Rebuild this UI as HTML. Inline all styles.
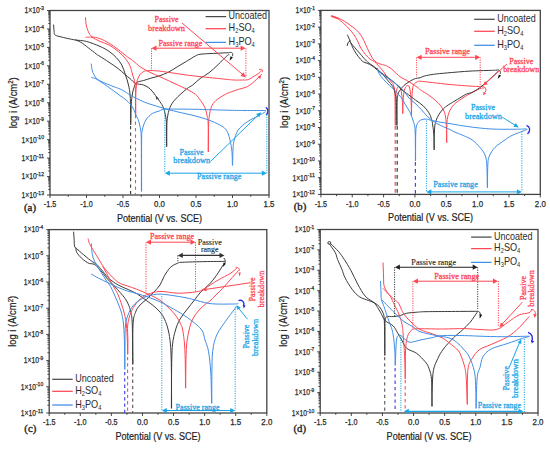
<!DOCTYPE html><html><head><meta charset="utf-8"><style>html,body{margin:0;padding:0;background:#fff;width:550px;height:449px;overflow:hidden} svg{display:block} text{font-family:"Liberation Sans", sans-serif}</style></head><body>
<svg width="550" height="449" viewBox="0 0 550 449">
<rect width="550" height="449" fill="#fff"/>
<rect x="50.00" y="10.50" width="219.00" height="184.50" fill="none" stroke="#444" stroke-width="1.3"/>
<path d="M47.00 195.00H50.00M48.20 189.45H50.00M48.20 186.20H50.00M48.20 183.89H50.00M48.20 182.10H50.00M48.20 180.64H50.00M48.20 179.41H50.00M48.20 178.34H50.00M48.20 177.39H50.00M47.00 176.55H50.00M48.20 171.00H50.00M48.20 167.75H50.00M48.20 165.44H50.00M48.20 163.65H50.00M48.20 162.19H50.00M48.20 160.96H50.00M48.20 159.89H50.00M48.20 158.94H50.00M47.00 158.10H50.00M48.20 152.55H50.00M48.20 149.30H50.00M48.20 146.99H50.00M48.20 145.20H50.00M48.20 143.74H50.00M48.20 142.51H50.00M48.20 141.44H50.00M48.20 140.49H50.00M47.00 139.65H50.00M48.20 134.10H50.00M48.20 130.85H50.00M48.20 128.54H50.00M48.20 126.75H50.00M48.20 125.29H50.00M48.20 124.06H50.00M48.20 122.99H50.00M48.20 122.04H50.00M47.00 121.20H50.00M48.20 115.65H50.00M48.20 112.40H50.00M48.20 110.09H50.00M48.20 108.30H50.00M48.20 106.84H50.00M48.20 105.61H50.00M48.20 104.54H50.00M48.20 103.59H50.00M47.00 102.75H50.00M48.20 97.20H50.00M48.20 93.95H50.00M48.20 91.64H50.00M48.20 89.85H50.00M48.20 88.39H50.00M48.20 87.16H50.00M48.20 86.09H50.00M48.20 85.14H50.00M47.00 84.30H50.00M48.20 78.75H50.00M48.20 75.50H50.00M48.20 73.19H50.00M48.20 71.40H50.00M48.20 69.94H50.00M48.20 68.71H50.00M48.20 67.64H50.00M48.20 66.69H50.00M47.00 65.85H50.00M48.20 60.30H50.00M48.20 57.05H50.00M48.20 54.74H50.00M48.20 52.95H50.00M48.20 51.49H50.00M48.20 50.26H50.00M48.20 49.19H50.00M48.20 48.24H50.00M47.00 47.40H50.00M48.20 41.85H50.00M48.20 38.60H50.00M48.20 36.29H50.00M48.20 34.50H50.00M48.20 33.04H50.00M48.20 31.81H50.00M48.20 30.74H50.00M48.20 29.79H50.00M47.00 28.95H50.00M48.20 23.40H50.00M48.20 20.15H50.00M48.20 17.84H50.00M48.20 16.05H50.00M48.20 14.59H50.00M48.20 13.36H50.00M48.20 12.29H50.00M48.20 11.34H50.00M47.00 10.50H50.00M50.00 195.00V198.00M68.25 195.00V196.80M86.50 195.00V198.00M104.75 195.00V196.80M123.00 195.00V198.00M141.25 195.00V196.80M159.50 195.00V198.00M177.75 195.00V196.80M196.00 195.00V198.00M214.25 195.00V196.80M232.50 195.00V198.00M250.75 195.00V196.80M269.00 195.00V198.00" stroke="#333" stroke-width="0.9" fill="none"/>
<text x="36.70" y="197.85" text-anchor="end" font-size="8.4" fill="#2a2a2a" stroke="#2a2a2a" stroke-width="0.25" textLength="15.2" lengthAdjust="spacingAndGlyphs">1×10</text>
<text x="36.70" y="194.60" font-size="5.8" fill="#2a2a2a" stroke="#2a2a2a" stroke-width="0.25" textLength="7.3" lengthAdjust="spacingAndGlyphs">-13</text>
<text x="36.70" y="179.40" text-anchor="end" font-size="8.4" fill="#2a2a2a" stroke="#2a2a2a" stroke-width="0.25" textLength="15.2" lengthAdjust="spacingAndGlyphs">1×10</text>
<text x="36.70" y="176.15" font-size="5.8" fill="#2a2a2a" stroke="#2a2a2a" stroke-width="0.25" textLength="7.3" lengthAdjust="spacingAndGlyphs">-12</text>
<text x="36.70" y="160.95" text-anchor="end" font-size="8.4" fill="#2a2a2a" stroke="#2a2a2a" stroke-width="0.25" textLength="15.2" lengthAdjust="spacingAndGlyphs">1×10</text>
<text x="36.70" y="157.70" font-size="5.8" fill="#2a2a2a" stroke="#2a2a2a" stroke-width="0.25" textLength="7.3" lengthAdjust="spacingAndGlyphs">-11</text>
<text x="36.70" y="142.50" text-anchor="end" font-size="8.4" fill="#2a2a2a" stroke="#2a2a2a" stroke-width="0.25" textLength="15.2" lengthAdjust="spacingAndGlyphs">1×10</text>
<text x="36.70" y="139.25" font-size="5.8" fill="#2a2a2a" stroke="#2a2a2a" stroke-width="0.25" textLength="7.3" lengthAdjust="spacingAndGlyphs">-10</text>
<text x="39.70" y="124.05" text-anchor="end" font-size="8.4" fill="#2a2a2a" stroke="#2a2a2a" stroke-width="0.25" textLength="15.2" lengthAdjust="spacingAndGlyphs">1×10</text>
<text x="39.70" y="120.80" font-size="5.8" fill="#2a2a2a" stroke="#2a2a2a" stroke-width="0.25" textLength="4.3" lengthAdjust="spacingAndGlyphs">-9</text>
<text x="39.70" y="105.60" text-anchor="end" font-size="8.4" fill="#2a2a2a" stroke="#2a2a2a" stroke-width="0.25" textLength="15.2" lengthAdjust="spacingAndGlyphs">1×10</text>
<text x="39.70" y="102.35" font-size="5.8" fill="#2a2a2a" stroke="#2a2a2a" stroke-width="0.25" textLength="4.3" lengthAdjust="spacingAndGlyphs">-8</text>
<text x="39.70" y="87.15" text-anchor="end" font-size="8.4" fill="#2a2a2a" stroke="#2a2a2a" stroke-width="0.25" textLength="15.2" lengthAdjust="spacingAndGlyphs">1×10</text>
<text x="39.70" y="83.90" font-size="5.8" fill="#2a2a2a" stroke="#2a2a2a" stroke-width="0.25" textLength="4.3" lengthAdjust="spacingAndGlyphs">-7</text>
<text x="39.70" y="68.70" text-anchor="end" font-size="8.4" fill="#2a2a2a" stroke="#2a2a2a" stroke-width="0.25" textLength="15.2" lengthAdjust="spacingAndGlyphs">1×10</text>
<text x="39.70" y="65.45" font-size="5.8" fill="#2a2a2a" stroke="#2a2a2a" stroke-width="0.25" textLength="4.3" lengthAdjust="spacingAndGlyphs">-6</text>
<text x="39.70" y="50.25" text-anchor="end" font-size="8.4" fill="#2a2a2a" stroke="#2a2a2a" stroke-width="0.25" textLength="15.2" lengthAdjust="spacingAndGlyphs">1×10</text>
<text x="39.70" y="47.00" font-size="5.8" fill="#2a2a2a" stroke="#2a2a2a" stroke-width="0.25" textLength="4.3" lengthAdjust="spacingAndGlyphs">-5</text>
<text x="39.70" y="31.80" text-anchor="end" font-size="8.4" fill="#2a2a2a" stroke="#2a2a2a" stroke-width="0.25" textLength="15.2" lengthAdjust="spacingAndGlyphs">1×10</text>
<text x="39.70" y="28.55" font-size="5.8" fill="#2a2a2a" stroke="#2a2a2a" stroke-width="0.25" textLength="4.3" lengthAdjust="spacingAndGlyphs">-4</text>
<text x="39.70" y="13.35" text-anchor="end" font-size="8.4" fill="#2a2a2a" stroke="#2a2a2a" stroke-width="0.25" textLength="15.2" lengthAdjust="spacingAndGlyphs">1×10</text>
<text x="39.70" y="10.10" font-size="5.8" fill="#2a2a2a" stroke="#2a2a2a" stroke-width="0.25" textLength="4.3" lengthAdjust="spacingAndGlyphs">-3</text>
<text x="43.80" y="207.20" font-size="8.6" fill="#2a2a2a" stroke="#2a2a2a" stroke-width="0.25" textLength="12.4" lengthAdjust="spacingAndGlyphs">-1.5</text>
<text x="80.30" y="207.20" font-size="8.6" fill="#2a2a2a" stroke="#2a2a2a" stroke-width="0.25" textLength="12.4" lengthAdjust="spacingAndGlyphs">-1.0</text>
<text x="116.80" y="207.20" font-size="8.6" fill="#2a2a2a" stroke="#2a2a2a" stroke-width="0.25" textLength="12.4" lengthAdjust="spacingAndGlyphs">-0.5</text>
<text x="154.00" y="207.20" font-size="8.6" fill="#2a2a2a" stroke="#2a2a2a" stroke-width="0.25" textLength="11.0" lengthAdjust="spacingAndGlyphs">0.0</text>
<text x="190.50" y="207.20" font-size="8.6" fill="#2a2a2a" stroke="#2a2a2a" stroke-width="0.25" textLength="11.0" lengthAdjust="spacingAndGlyphs">0.5</text>
<text x="227.00" y="207.20" font-size="8.6" fill="#2a2a2a" stroke="#2a2a2a" stroke-width="0.25" textLength="11.0" lengthAdjust="spacingAndGlyphs">1.0</text>
<text x="263.50" y="207.20" font-size="8.6" fill="#2a2a2a" stroke="#2a2a2a" stroke-width="0.25" textLength="11.0" lengthAdjust="spacingAndGlyphs">1.5</text>
<text x="159.50" y="221.50" text-anchor="middle" font-size="10" fill="#222" stroke="#222" stroke-width="0.2" textLength="85" lengthAdjust="spacingAndGlyphs">Potential (V vs. SCE)</text>
<text transform="translate(16.80,102.75) rotate(-90)" text-anchor="middle" font-size="10" fill="#222" stroke="#222" stroke-width="0.2" textLength="51" lengthAdjust="spacingAndGlyphs">log i (A/cm<tspan font-size="6.5" dy="-3.5">2</tspan><tspan dy="3.5">)</tspan></text>
<text x="24.00" y="210.60" style='font-family:"Liberation Serif", serif' font-size="10.8" fill="#222" stroke="#222" stroke-width="0.35">(a)</text>
<rect x="320.90" y="10.40" width="219.40" height="184.00" fill="none" stroke="#444" stroke-width="1.3"/>
<path d="M317.90 194.40H320.90M319.10 189.36H320.90M319.10 186.42H320.90M319.10 184.33H320.90M319.10 182.71H320.90M319.10 181.38H320.90M319.10 180.26H320.90M319.10 179.29H320.90M319.10 178.44H320.90M317.90 177.67H320.90M319.10 172.64H320.90M319.10 169.69H320.90M319.10 167.60H320.90M319.10 165.98H320.90M319.10 164.66H320.90M319.10 163.54H320.90M319.10 162.57H320.90M319.10 161.71H320.90M317.90 160.95H320.90M319.10 155.91H320.90M319.10 152.96H320.90M319.10 150.87H320.90M319.10 149.25H320.90M319.10 147.93H320.90M319.10 146.81H320.90M319.10 145.84H320.90M319.10 144.98H320.90M317.90 144.22H320.90M319.10 139.18H320.90M319.10 136.24H320.90M319.10 134.15H320.90M319.10 132.53H320.90M319.10 131.20H320.90M319.10 130.08H320.90M319.10 129.11H320.90M319.10 128.26H320.90M317.90 127.49H320.90M319.10 122.46H320.90M319.10 119.51H320.90M319.10 117.42H320.90M319.10 115.80H320.90M319.10 114.47H320.90M319.10 113.35H320.90M319.10 112.38H320.90M319.10 111.53H320.90M317.90 110.76H320.90M319.10 105.73H320.90M319.10 102.78H320.90M319.10 100.69H320.90M319.10 99.07H320.90M319.10 97.75H320.90M319.10 96.63H320.90M319.10 95.66H320.90M319.10 94.80H320.90M317.90 94.04H320.90M319.10 89.00H320.90M319.10 86.06H320.90M319.10 83.97H320.90M319.10 82.34H320.90M319.10 81.02H320.90M319.10 79.90H320.90M319.10 78.93H320.90M319.10 78.07H320.90M317.90 77.31H320.90M319.10 72.27H320.90M319.10 69.33H320.90M319.10 67.24H320.90M319.10 65.62H320.90M319.10 64.29H320.90M319.10 63.17H320.90M319.10 62.20H320.90M319.10 61.35H320.90M317.90 60.58H320.90M319.10 55.55H320.90M319.10 52.60H320.90M319.10 50.51H320.90M319.10 48.89H320.90M319.10 47.57H320.90M319.10 46.45H320.90M319.10 45.48H320.90M319.10 44.62H320.90M317.90 43.85H320.90M319.10 38.82H320.90M319.10 35.87H320.90M319.10 33.78H320.90M319.10 32.16H320.90M319.10 30.84H320.90M319.10 29.72H320.90M319.10 28.75H320.90M319.10 27.89H320.90M317.90 27.13H320.90M319.10 22.09H320.90M319.10 19.15H320.90M319.10 17.06H320.90M319.10 15.44H320.90M319.10 14.11H320.90M319.10 12.99H320.90M319.10 12.02H320.90M319.10 11.17H320.90M317.90 10.40H320.90M320.90 194.40V197.40M336.57 194.40V196.20M352.24 194.40V197.40M367.91 194.40V196.20M383.59 194.40V197.40M399.26 194.40V196.20M414.93 194.40V197.40M430.60 194.40V196.20M446.27 194.40V197.40M461.94 194.40V196.20M477.61 194.40V197.40M493.29 194.40V196.20M508.96 194.40V197.40M524.63 194.40V196.20M540.30 194.40V197.40" stroke="#333" stroke-width="0.9" fill="none"/>
<text x="307.60" y="197.25" text-anchor="end" font-size="8.4" fill="#2a2a2a" stroke="#2a2a2a" stroke-width="0.25" textLength="15.2" lengthAdjust="spacingAndGlyphs">1×10</text>
<text x="307.60" y="194.00" font-size="5.8" fill="#2a2a2a" stroke="#2a2a2a" stroke-width="0.25" textLength="7.3" lengthAdjust="spacingAndGlyphs">-12</text>
<text x="307.60" y="180.52" text-anchor="end" font-size="8.4" fill="#2a2a2a" stroke="#2a2a2a" stroke-width="0.25" textLength="15.2" lengthAdjust="spacingAndGlyphs">1×10</text>
<text x="307.60" y="177.27" font-size="5.8" fill="#2a2a2a" stroke="#2a2a2a" stroke-width="0.25" textLength="7.3" lengthAdjust="spacingAndGlyphs">-11</text>
<text x="307.60" y="163.80" text-anchor="end" font-size="8.4" fill="#2a2a2a" stroke="#2a2a2a" stroke-width="0.25" textLength="15.2" lengthAdjust="spacingAndGlyphs">1×10</text>
<text x="307.60" y="160.55" font-size="5.8" fill="#2a2a2a" stroke="#2a2a2a" stroke-width="0.25" textLength="7.3" lengthAdjust="spacingAndGlyphs">-10</text>
<text x="310.60" y="147.07" text-anchor="end" font-size="8.4" fill="#2a2a2a" stroke="#2a2a2a" stroke-width="0.25" textLength="15.2" lengthAdjust="spacingAndGlyphs">1×10</text>
<text x="310.60" y="143.82" font-size="5.8" fill="#2a2a2a" stroke="#2a2a2a" stroke-width="0.25" textLength="4.3" lengthAdjust="spacingAndGlyphs">-9</text>
<text x="310.60" y="130.34" text-anchor="end" font-size="8.4" fill="#2a2a2a" stroke="#2a2a2a" stroke-width="0.25" textLength="15.2" lengthAdjust="spacingAndGlyphs">1×10</text>
<text x="310.60" y="127.09" font-size="5.8" fill="#2a2a2a" stroke="#2a2a2a" stroke-width="0.25" textLength="4.3" lengthAdjust="spacingAndGlyphs">-8</text>
<text x="310.60" y="113.61" text-anchor="end" font-size="8.4" fill="#2a2a2a" stroke="#2a2a2a" stroke-width="0.25" textLength="15.2" lengthAdjust="spacingAndGlyphs">1×10</text>
<text x="310.60" y="110.36" font-size="5.8" fill="#2a2a2a" stroke="#2a2a2a" stroke-width="0.25" textLength="4.3" lengthAdjust="spacingAndGlyphs">-7</text>
<text x="310.60" y="96.89" text-anchor="end" font-size="8.4" fill="#2a2a2a" stroke="#2a2a2a" stroke-width="0.25" textLength="15.2" lengthAdjust="spacingAndGlyphs">1×10</text>
<text x="310.60" y="93.64" font-size="5.8" fill="#2a2a2a" stroke="#2a2a2a" stroke-width="0.25" textLength="4.3" lengthAdjust="spacingAndGlyphs">-6</text>
<text x="310.60" y="80.16" text-anchor="end" font-size="8.4" fill="#2a2a2a" stroke="#2a2a2a" stroke-width="0.25" textLength="15.2" lengthAdjust="spacingAndGlyphs">1×10</text>
<text x="310.60" y="76.91" font-size="5.8" fill="#2a2a2a" stroke="#2a2a2a" stroke-width="0.25" textLength="4.3" lengthAdjust="spacingAndGlyphs">-5</text>
<text x="310.60" y="63.43" text-anchor="end" font-size="8.4" fill="#2a2a2a" stroke="#2a2a2a" stroke-width="0.25" textLength="15.2" lengthAdjust="spacingAndGlyphs">1×10</text>
<text x="310.60" y="60.18" font-size="5.8" fill="#2a2a2a" stroke="#2a2a2a" stroke-width="0.25" textLength="4.3" lengthAdjust="spacingAndGlyphs">-4</text>
<text x="310.60" y="46.70" text-anchor="end" font-size="8.4" fill="#2a2a2a" stroke="#2a2a2a" stroke-width="0.25" textLength="15.2" lengthAdjust="spacingAndGlyphs">1×10</text>
<text x="310.60" y="43.45" font-size="5.8" fill="#2a2a2a" stroke="#2a2a2a" stroke-width="0.25" textLength="4.3" lengthAdjust="spacingAndGlyphs">-3</text>
<text x="310.60" y="29.98" text-anchor="end" font-size="8.4" fill="#2a2a2a" stroke="#2a2a2a" stroke-width="0.25" textLength="15.2" lengthAdjust="spacingAndGlyphs">1×10</text>
<text x="310.60" y="26.73" font-size="5.8" fill="#2a2a2a" stroke="#2a2a2a" stroke-width="0.25" textLength="4.3" lengthAdjust="spacingAndGlyphs">-2</text>
<text x="310.60" y="13.25" text-anchor="end" font-size="8.4" fill="#2a2a2a" stroke="#2a2a2a" stroke-width="0.25" textLength="15.2" lengthAdjust="spacingAndGlyphs">1×10</text>
<text x="310.60" y="10.00" font-size="5.8" fill="#2a2a2a" stroke="#2a2a2a" stroke-width="0.25" textLength="4.3" lengthAdjust="spacingAndGlyphs">-1</text>
<text x="314.70" y="206.60" font-size="8.6" fill="#2a2a2a" stroke="#2a2a2a" stroke-width="0.25" textLength="12.4" lengthAdjust="spacingAndGlyphs">-1.5</text>
<text x="346.04" y="206.60" font-size="8.6" fill="#2a2a2a" stroke="#2a2a2a" stroke-width="0.25" textLength="12.4" lengthAdjust="spacingAndGlyphs">-1.0</text>
<text x="377.39" y="206.60" font-size="8.6" fill="#2a2a2a" stroke="#2a2a2a" stroke-width="0.25" textLength="12.4" lengthAdjust="spacingAndGlyphs">-0.5</text>
<text x="409.43" y="206.60" font-size="8.6" fill="#2a2a2a" stroke="#2a2a2a" stroke-width="0.25" textLength="11.0" lengthAdjust="spacingAndGlyphs">0.0</text>
<text x="440.77" y="206.60" font-size="8.6" fill="#2a2a2a" stroke="#2a2a2a" stroke-width="0.25" textLength="11.0" lengthAdjust="spacingAndGlyphs">0.5</text>
<text x="472.11" y="206.60" font-size="8.6" fill="#2a2a2a" stroke="#2a2a2a" stroke-width="0.25" textLength="11.0" lengthAdjust="spacingAndGlyphs">1.0</text>
<text x="503.46" y="206.60" font-size="8.6" fill="#2a2a2a" stroke="#2a2a2a" stroke-width="0.25" textLength="11.0" lengthAdjust="spacingAndGlyphs">1.5</text>
<text x="534.80" y="206.60" font-size="8.6" fill="#2a2a2a" stroke="#2a2a2a" stroke-width="0.25" textLength="11.0" lengthAdjust="spacingAndGlyphs">2.0</text>
<text x="430.60" y="220.90" text-anchor="middle" font-size="10" fill="#222" stroke="#222" stroke-width="0.2" textLength="85" lengthAdjust="spacingAndGlyphs">Potential (V vs. SCE)</text>
<text transform="translate(287.70,102.40) rotate(-90)" text-anchor="middle" font-size="10" fill="#222" stroke="#222" stroke-width="0.2" textLength="51" lengthAdjust="spacingAndGlyphs">log i (A/cm<tspan font-size="6.5" dy="-3.5">2</tspan><tspan dy="3.5">)</tspan></text>
<text x="293.70" y="210.40" style='font-family:"Liberation Serif", serif' font-size="10.8" fill="#222" stroke="#222" stroke-width="0.35">(b)</text>
<rect x="49.20" y="229.60" width="217.60" height="183.40" fill="none" stroke="#444" stroke-width="1.3"/>
<path d="M46.20 413.00H49.20M47.40 405.11H49.20M47.40 400.50H49.20M47.40 397.23H49.20M47.40 394.69H49.20M47.40 392.61H49.20M47.40 390.86H49.20M47.40 389.34H49.20M47.40 388.00H49.20M46.20 386.80H49.20M47.40 378.91H49.20M47.40 374.30H49.20M47.40 371.03H49.20M47.40 368.49H49.20M47.40 366.41H49.20M47.40 364.66H49.20M47.40 363.14H49.20M47.40 361.80H49.20M46.20 360.60H49.20M47.40 352.71H49.20M47.40 348.10H49.20M47.40 344.83H49.20M47.40 342.29H49.20M47.40 340.21H49.20M47.40 338.46H49.20M47.40 336.94H49.20M47.40 335.60H49.20M46.20 334.40H49.20M47.40 326.51H49.20M47.40 321.90H49.20M47.40 318.63H49.20M47.40 316.09H49.20M47.40 314.01H49.20M47.40 312.26H49.20M47.40 310.74H49.20M47.40 309.40H49.20M46.20 308.20H49.20M47.40 300.31H49.20M47.40 295.70H49.20M47.40 292.43H49.20M47.40 289.89H49.20M47.40 287.81H49.20M47.40 286.06H49.20M47.40 284.54H49.20M47.40 283.20H49.20M46.20 282.00H49.20M47.40 274.11H49.20M47.40 269.50H49.20M47.40 266.23H49.20M47.40 263.69H49.20M47.40 261.61H49.20M47.40 259.86H49.20M47.40 258.34H49.20M47.40 257.00H49.20M46.20 255.80H49.20M47.40 247.91H49.20M47.40 243.30H49.20M47.40 240.03H49.20M47.40 237.49H49.20M47.40 235.41H49.20M47.40 233.66H49.20M47.40 232.14H49.20M47.40 230.80H49.20M46.20 229.60H49.20M49.20 413.00V416.00M64.74 413.00V414.80M80.29 413.00V416.00M95.83 413.00V414.80M111.37 413.00V416.00M126.91 413.00V414.80M142.46 413.00V416.00M158.00 413.00V414.80M173.54 413.00V416.00M189.09 413.00V414.80M204.63 413.00V416.00M220.17 413.00V414.80M235.71 413.00V416.00M251.26 413.00V414.80M266.80 413.00V416.00" stroke="#333" stroke-width="0.9" fill="none"/>
<text x="35.90" y="415.85" text-anchor="end" font-size="8.4" fill="#2a2a2a" stroke="#2a2a2a" stroke-width="0.25" textLength="15.2" lengthAdjust="spacingAndGlyphs">1×10</text>
<text x="35.90" y="412.60" font-size="5.8" fill="#2a2a2a" stroke="#2a2a2a" stroke-width="0.25" textLength="7.3" lengthAdjust="spacingAndGlyphs">-11</text>
<text x="35.90" y="389.65" text-anchor="end" font-size="8.4" fill="#2a2a2a" stroke="#2a2a2a" stroke-width="0.25" textLength="15.2" lengthAdjust="spacingAndGlyphs">1×10</text>
<text x="35.90" y="386.40" font-size="5.8" fill="#2a2a2a" stroke="#2a2a2a" stroke-width="0.25" textLength="7.3" lengthAdjust="spacingAndGlyphs">-10</text>
<text x="38.90" y="363.45" text-anchor="end" font-size="8.4" fill="#2a2a2a" stroke="#2a2a2a" stroke-width="0.25" textLength="15.2" lengthAdjust="spacingAndGlyphs">1×10</text>
<text x="38.90" y="360.20" font-size="5.8" fill="#2a2a2a" stroke="#2a2a2a" stroke-width="0.25" textLength="4.3" lengthAdjust="spacingAndGlyphs">-9</text>
<text x="38.90" y="337.25" text-anchor="end" font-size="8.4" fill="#2a2a2a" stroke="#2a2a2a" stroke-width="0.25" textLength="15.2" lengthAdjust="spacingAndGlyphs">1×10</text>
<text x="38.90" y="334.00" font-size="5.8" fill="#2a2a2a" stroke="#2a2a2a" stroke-width="0.25" textLength="4.3" lengthAdjust="spacingAndGlyphs">-8</text>
<text x="38.90" y="311.05" text-anchor="end" font-size="8.4" fill="#2a2a2a" stroke="#2a2a2a" stroke-width="0.25" textLength="15.2" lengthAdjust="spacingAndGlyphs">1×10</text>
<text x="38.90" y="307.80" font-size="5.8" fill="#2a2a2a" stroke="#2a2a2a" stroke-width="0.25" textLength="4.3" lengthAdjust="spacingAndGlyphs">-7</text>
<text x="38.90" y="284.85" text-anchor="end" font-size="8.4" fill="#2a2a2a" stroke="#2a2a2a" stroke-width="0.25" textLength="15.2" lengthAdjust="spacingAndGlyphs">1×10</text>
<text x="38.90" y="281.60" font-size="5.8" fill="#2a2a2a" stroke="#2a2a2a" stroke-width="0.25" textLength="4.3" lengthAdjust="spacingAndGlyphs">-6</text>
<text x="38.90" y="258.65" text-anchor="end" font-size="8.4" fill="#2a2a2a" stroke="#2a2a2a" stroke-width="0.25" textLength="15.2" lengthAdjust="spacingAndGlyphs">1×10</text>
<text x="38.90" y="255.40" font-size="5.8" fill="#2a2a2a" stroke="#2a2a2a" stroke-width="0.25" textLength="4.3" lengthAdjust="spacingAndGlyphs">-5</text>
<text x="38.90" y="232.45" text-anchor="end" font-size="8.4" fill="#2a2a2a" stroke="#2a2a2a" stroke-width="0.25" textLength="15.2" lengthAdjust="spacingAndGlyphs">1×10</text>
<text x="38.90" y="229.20" font-size="5.8" fill="#2a2a2a" stroke="#2a2a2a" stroke-width="0.25" textLength="4.3" lengthAdjust="spacingAndGlyphs">-4</text>
<text x="43.00" y="425.20" font-size="8.6" fill="#2a2a2a" stroke="#2a2a2a" stroke-width="0.25" textLength="12.4" lengthAdjust="spacingAndGlyphs">-1.5</text>
<text x="74.09" y="425.20" font-size="8.6" fill="#2a2a2a" stroke="#2a2a2a" stroke-width="0.25" textLength="12.4" lengthAdjust="spacingAndGlyphs">-1.0</text>
<text x="105.17" y="425.20" font-size="8.6" fill="#2a2a2a" stroke="#2a2a2a" stroke-width="0.25" textLength="12.4" lengthAdjust="spacingAndGlyphs">-0.5</text>
<text x="136.96" y="425.20" font-size="8.6" fill="#2a2a2a" stroke="#2a2a2a" stroke-width="0.25" textLength="11.0" lengthAdjust="spacingAndGlyphs">0.0</text>
<text x="168.04" y="425.20" font-size="8.6" fill="#2a2a2a" stroke="#2a2a2a" stroke-width="0.25" textLength="11.0" lengthAdjust="spacingAndGlyphs">0.5</text>
<text x="199.13" y="425.20" font-size="8.6" fill="#2a2a2a" stroke="#2a2a2a" stroke-width="0.25" textLength="11.0" lengthAdjust="spacingAndGlyphs">1.0</text>
<text x="230.21" y="425.20" font-size="8.6" fill="#2a2a2a" stroke="#2a2a2a" stroke-width="0.25" textLength="11.0" lengthAdjust="spacingAndGlyphs">1.5</text>
<text x="261.30" y="425.20" font-size="8.6" fill="#2a2a2a" stroke="#2a2a2a" stroke-width="0.25" textLength="11.0" lengthAdjust="spacingAndGlyphs">2.0</text>
<text x="158.00" y="439.50" text-anchor="middle" font-size="10" fill="#222" stroke="#222" stroke-width="0.2" textLength="85" lengthAdjust="spacingAndGlyphs">Potential (V vs. SCE)</text>
<text transform="translate(16.00,321.30) rotate(-90)" text-anchor="middle" font-size="10" fill="#222" stroke="#222" stroke-width="0.2" textLength="51" lengthAdjust="spacingAndGlyphs">log i (A/cm<tspan font-size="6.5" dy="-3.5">2</tspan><tspan dy="3.5">)</tspan></text>
<text x="24.30" y="432.10" style='font-family:"Liberation Serif", serif' font-size="10.8" fill="#222" stroke="#222" stroke-width="0.35">(c)</text>
<rect x="320.20" y="229.50" width="217.80" height="183.50" fill="none" stroke="#444" stroke-width="1.3"/>
<path d="M317.20 413.00H320.20M318.40 406.86H320.20M318.40 403.27H320.20M318.40 400.72H320.20M318.40 398.75H320.20M318.40 397.13H320.20M318.40 395.77H320.20M318.40 394.59H320.20M318.40 393.54H320.20M317.20 392.61H320.20M318.40 386.47H320.20M318.40 382.88H320.20M318.40 380.34H320.20M318.40 378.36H320.20M318.40 376.75H320.20M318.40 375.38H320.20M318.40 374.20H320.20M318.40 373.16H320.20M317.20 372.22H320.20M318.40 366.08H320.20M318.40 362.49H320.20M318.40 359.95H320.20M318.40 357.97H320.20M318.40 356.36H320.20M318.40 354.99H320.20M318.40 353.81H320.20M318.40 352.77H320.20M317.20 351.83H320.20M318.40 345.70H320.20M318.40 342.11H320.20M318.40 339.56H320.20M318.40 337.58H320.20M318.40 335.97H320.20M318.40 334.60H320.20M318.40 333.42H320.20M318.40 332.38H320.20M317.20 331.44H320.20M318.40 325.31H320.20M318.40 321.72H320.20M318.40 319.17H320.20M318.40 317.19H320.20M318.40 315.58H320.20M318.40 314.21H320.20M318.40 313.03H320.20M318.40 311.99H320.20M317.20 311.06H320.20M318.40 304.92H320.20M318.40 301.33H320.20M318.40 298.78H320.20M318.40 296.80H320.20M318.40 295.19H320.20M318.40 293.82H320.20M318.40 292.64H320.20M318.40 291.60H320.20M317.20 290.67H320.20M318.40 284.53H320.20M318.40 280.94H320.20M318.40 278.39H320.20M318.40 276.42H320.20M318.40 274.80H320.20M318.40 273.44H320.20M318.40 272.25H320.20M318.40 271.21H320.20M317.20 270.28H320.20M318.40 264.14H320.20M318.40 260.55H320.20M318.40 258.00H320.20M318.40 256.03H320.20M318.40 254.41H320.20M318.40 253.05H320.20M318.40 251.86H320.20M318.40 250.82H320.20M317.20 249.89H320.20M318.40 243.75H320.20M318.40 240.16H320.20M318.40 237.61H320.20M318.40 235.64H320.20M318.40 234.02H320.20M318.40 232.66H320.20M318.40 231.48H320.20M318.40 230.43H320.20M317.20 229.50H320.20M320.20 413.00V416.00M335.76 413.00V414.80M351.31 413.00V416.00M366.87 413.00V414.80M382.43 413.00V416.00M397.99 413.00V414.80M413.54 413.00V416.00M429.10 413.00V414.80M444.66 413.00V416.00M460.21 413.00V414.80M475.77 413.00V416.00M491.33 413.00V414.80M506.89 413.00V416.00M522.44 413.00V414.80M538.00 413.00V416.00" stroke="#333" stroke-width="0.9" fill="none"/>
<text x="306.90" y="415.85" text-anchor="end" font-size="8.4" fill="#2a2a2a" stroke="#2a2a2a" stroke-width="0.25" textLength="15.2" lengthAdjust="spacingAndGlyphs">1×10</text>
<text x="306.90" y="412.60" font-size="5.8" fill="#2a2a2a" stroke="#2a2a2a" stroke-width="0.25" textLength="7.3" lengthAdjust="spacingAndGlyphs">-10</text>
<text x="309.90" y="395.46" text-anchor="end" font-size="8.4" fill="#2a2a2a" stroke="#2a2a2a" stroke-width="0.25" textLength="15.2" lengthAdjust="spacingAndGlyphs">1×10</text>
<text x="309.90" y="392.21" font-size="5.8" fill="#2a2a2a" stroke="#2a2a2a" stroke-width="0.25" textLength="4.3" lengthAdjust="spacingAndGlyphs">-9</text>
<text x="309.90" y="375.07" text-anchor="end" font-size="8.4" fill="#2a2a2a" stroke="#2a2a2a" stroke-width="0.25" textLength="15.2" lengthAdjust="spacingAndGlyphs">1×10</text>
<text x="309.90" y="371.82" font-size="5.8" fill="#2a2a2a" stroke="#2a2a2a" stroke-width="0.25" textLength="4.3" lengthAdjust="spacingAndGlyphs">-8</text>
<text x="309.90" y="354.68" text-anchor="end" font-size="8.4" fill="#2a2a2a" stroke="#2a2a2a" stroke-width="0.25" textLength="15.2" lengthAdjust="spacingAndGlyphs">1×10</text>
<text x="309.90" y="351.43" font-size="5.8" fill="#2a2a2a" stroke="#2a2a2a" stroke-width="0.25" textLength="4.3" lengthAdjust="spacingAndGlyphs">-7</text>
<text x="309.90" y="334.29" text-anchor="end" font-size="8.4" fill="#2a2a2a" stroke="#2a2a2a" stroke-width="0.25" textLength="15.2" lengthAdjust="spacingAndGlyphs">1×10</text>
<text x="309.90" y="331.04" font-size="5.8" fill="#2a2a2a" stroke="#2a2a2a" stroke-width="0.25" textLength="4.3" lengthAdjust="spacingAndGlyphs">-6</text>
<text x="309.90" y="313.91" text-anchor="end" font-size="8.4" fill="#2a2a2a" stroke="#2a2a2a" stroke-width="0.25" textLength="15.2" lengthAdjust="spacingAndGlyphs">1×10</text>
<text x="309.90" y="310.66" font-size="5.8" fill="#2a2a2a" stroke="#2a2a2a" stroke-width="0.25" textLength="4.3" lengthAdjust="spacingAndGlyphs">-5</text>
<text x="309.90" y="293.52" text-anchor="end" font-size="8.4" fill="#2a2a2a" stroke="#2a2a2a" stroke-width="0.25" textLength="15.2" lengthAdjust="spacingAndGlyphs">1×10</text>
<text x="309.90" y="290.27" font-size="5.8" fill="#2a2a2a" stroke="#2a2a2a" stroke-width="0.25" textLength="4.3" lengthAdjust="spacingAndGlyphs">-4</text>
<text x="309.90" y="273.13" text-anchor="end" font-size="8.4" fill="#2a2a2a" stroke="#2a2a2a" stroke-width="0.25" textLength="15.2" lengthAdjust="spacingAndGlyphs">1×10</text>
<text x="309.90" y="269.88" font-size="5.8" fill="#2a2a2a" stroke="#2a2a2a" stroke-width="0.25" textLength="4.3" lengthAdjust="spacingAndGlyphs">-3</text>
<text x="309.90" y="252.74" text-anchor="end" font-size="8.4" fill="#2a2a2a" stroke="#2a2a2a" stroke-width="0.25" textLength="15.2" lengthAdjust="spacingAndGlyphs">1×10</text>
<text x="309.90" y="249.49" font-size="5.8" fill="#2a2a2a" stroke="#2a2a2a" stroke-width="0.25" textLength="4.3" lengthAdjust="spacingAndGlyphs">-2</text>
<text x="309.90" y="232.35" text-anchor="end" font-size="8.4" fill="#2a2a2a" stroke="#2a2a2a" stroke-width="0.25" textLength="15.2" lengthAdjust="spacingAndGlyphs">1×10</text>
<text x="309.90" y="229.10" font-size="5.8" fill="#2a2a2a" stroke="#2a2a2a" stroke-width="0.25" textLength="4.3" lengthAdjust="spacingAndGlyphs">-1</text>
<text x="314.00" y="425.20" font-size="8.6" fill="#2a2a2a" stroke="#2a2a2a" stroke-width="0.25" textLength="12.4" lengthAdjust="spacingAndGlyphs">-1.5</text>
<text x="345.11" y="425.20" font-size="8.6" fill="#2a2a2a" stroke="#2a2a2a" stroke-width="0.25" textLength="12.4" lengthAdjust="spacingAndGlyphs">-1.0</text>
<text x="376.23" y="425.20" font-size="8.6" fill="#2a2a2a" stroke="#2a2a2a" stroke-width="0.25" textLength="12.4" lengthAdjust="spacingAndGlyphs">-0.5</text>
<text x="408.04" y="425.20" font-size="8.6" fill="#2a2a2a" stroke="#2a2a2a" stroke-width="0.25" textLength="11.0" lengthAdjust="spacingAndGlyphs">0.0</text>
<text x="439.16" y="425.20" font-size="8.6" fill="#2a2a2a" stroke="#2a2a2a" stroke-width="0.25" textLength="11.0" lengthAdjust="spacingAndGlyphs">0.5</text>
<text x="470.27" y="425.20" font-size="8.6" fill="#2a2a2a" stroke="#2a2a2a" stroke-width="0.25" textLength="11.0" lengthAdjust="spacingAndGlyphs">1.0</text>
<text x="501.39" y="425.20" font-size="8.6" fill="#2a2a2a" stroke="#2a2a2a" stroke-width="0.25" textLength="11.0" lengthAdjust="spacingAndGlyphs">1.5</text>
<text x="532.50" y="425.20" font-size="8.6" fill="#2a2a2a" stroke="#2a2a2a" stroke-width="0.25" textLength="11.0" lengthAdjust="spacingAndGlyphs">2.0</text>
<text x="429.10" y="439.50" text-anchor="middle" font-size="10" fill="#222" stroke="#222" stroke-width="0.2" textLength="85" lengthAdjust="spacingAndGlyphs">Potential (V vs. SCE)</text>
<text transform="translate(287.00,321.25) rotate(-90)" text-anchor="middle" font-size="10" fill="#222" stroke="#222" stroke-width="0.2" textLength="51" lengthAdjust="spacingAndGlyphs">log i (A/cm<tspan font-size="6.5" dy="-3.5">2</tspan><tspan dy="3.5">)</tspan></text>
<text x="293.50" y="432.10" style='font-family:"Liberation Serif", serif' font-size="10.8" fill="#222" stroke="#222" stroke-width="0.35">(d)</text>
<path d="M53.60 25.00 C53.68 26.07 53.90 29.77 54.10 31.40 C54.30 33.03 53.97 33.97 54.80 34.80 C55.63 35.63 56.87 35.77 59.10 36.40 C61.33 37.03 65.47 38.00 68.20 38.60 C70.93 39.20 72.47 39.53 75.50 40.00 C78.53 40.47 82.32 40.33 86.40 41.40 C90.48 42.47 96.22 44.73 100.00 46.40 C103.78 48.07 106.37 49.52 109.10 51.40 C111.83 53.28 114.28 55.43 116.40 57.70 C118.52 59.97 120.28 62.12 121.80 65.00 C123.32 67.88 124.38 71.67 125.50 75.00 C126.62 78.33 127.73 81.67 128.50 85.00 C129.27 88.33 129.75 90.83 130.10 95.00 C130.45 99.17 130.52 105.08 130.60 110.00 C130.68 114.92 130.60 122.08 130.60 124.50" fill="none" stroke="#3a3a3a" stroke-width="1.0" stroke-linejoin="round" stroke-linecap="round" />
<path d="M130.80 124.50 C130.87 121.25 130.93 110.08 131.20 105.00 C131.47 99.92 131.93 96.92 132.40 94.00 C132.87 91.08 133.32 89.42 134.00 87.50 C134.68 85.58 134.90 83.67 136.50 82.50 C138.10 81.33 141.20 81.22 143.60 80.50 C146.00 79.78 148.32 78.97 150.90 78.20 C153.48 77.43 156.22 76.88 159.10 75.90 C161.98 74.92 165.17 73.82 168.20 72.30 C171.23 70.78 174.27 68.62 177.30 66.80 C180.33 64.98 183.37 63.22 186.40 61.40 C189.43 59.58 193.23 57.08 195.50 55.90 C197.77 54.72 197.73 54.68 200.00 54.30 C202.27 53.92 206.07 53.78 209.10 53.60 C212.13 53.42 215.02 53.35 218.20 53.20 C221.38 53.05 226.53 52.78 228.20 52.70" fill="none" stroke="#3a3a3a" stroke-width="1.0" stroke-linejoin="round" stroke-linecap="round" />
<path d="M228.6 52.9 C231.5 51.3 233.8 53.3 232.3 56.2" fill="none" stroke="#3a3a3a" stroke-width="1"/>
<path d="M229.60 60.80L230.56 56.22L232.86 57.44Z" fill="#111"/>
<path d="M229.00 55.00 C228.72 55.08 229.10 53.92 227.30 55.50 C225.50 57.08 221.23 61.63 218.20 64.50 C215.17 67.37 212.13 70.35 209.10 72.70 C206.07 75.05 202.73 76.55 200.00 78.60 C197.27 80.65 194.97 83.25 192.70 85.00 C190.43 86.75 189.27 86.75 186.40 89.10 C183.53 91.45 178.23 96.07 175.50 99.10 C172.77 102.13 171.37 104.12 170.00 107.30 C168.63 110.48 167.83 114.42 167.30 118.20 C166.77 121.98 166.88 125.30 166.80 130.00 C166.72 134.70 166.80 143.67 166.80 146.40" fill="none" stroke="#3a3a3a" stroke-width="1.0" stroke-linejoin="round" stroke-linecap="round" />
<path d="M166.50 146.40 C166.48 143.67 166.45 134.40 166.40 130.00 C166.35 125.60 166.67 123.63 166.20 120.00 C165.73 116.37 164.63 111.23 163.60 108.20 C162.57 105.17 161.35 103.92 160.00 101.80 C158.65 99.68 157.17 97.67 155.50 95.50 C153.83 93.33 151.98 90.55 150.00 88.80 C148.02 87.05 146.00 85.90 143.60 85.00 C141.20 84.10 137.87 84.47 135.60 83.40 C133.33 82.33 131.85 80.15 130.00 78.60 C128.15 77.05 126.47 75.77 124.50 74.10 C122.53 72.43 120.77 70.57 118.20 68.60 C115.63 66.63 112.13 64.33 109.10 62.30 C106.07 60.27 102.12 57.77 100.00 56.40 C97.88 55.03 98.37 55.55 96.40 54.10 C94.43 52.65 90.78 49.67 88.20 47.70 C85.62 45.73 83.02 43.58 80.90 42.30 C78.78 41.02 76.40 40.38 75.50 40.00" fill="none" stroke="#3a3a3a" stroke-width="1.0" stroke-linejoin="round" stroke-linecap="round" />
<path d="M155.60 96.20L158.75 98.26L156.46 99.87Z" fill="#3a3a3a"/>
<path d="M130.60 126.00V195.00" stroke="#3a3a3a" stroke-width="1.1" stroke-dasharray="3.3 3.2" fill="none"/>
<path d="M85.50 17.70 C85.65 19.07 85.80 23.32 86.40 25.90 C87.00 28.48 88.20 31.38 89.10 33.20 C90.00 35.02 91.35 36.20 91.80 36.80" fill="none" stroke="#ff4652" stroke-width="1.0" stroke-linejoin="round" stroke-linecap="round" />
<path d="M85.50 37.30 L91.80 37.00" fill="none" stroke="#ff4652" stroke-width="0.9" />
<path d="M91.80 36.80 C93.17 37.10 97.12 37.53 100.00 38.60 C102.88 39.67 106.07 41.38 109.10 43.20 C112.13 45.02 115.17 47.23 118.20 49.50 C121.23 51.77 124.88 54.97 127.30 56.80 C129.72 58.63 130.43 58.75 132.70 60.50 C134.97 62.25 138.02 65.33 140.90 67.30 C143.78 69.27 146.97 70.78 150.00 72.30 C153.03 73.82 156.07 75.03 159.10 76.40 C162.13 77.77 165.17 79.10 168.20 80.50 C171.23 81.90 174.27 83.37 177.30 84.80 C180.33 86.23 183.37 87.52 186.40 89.10 C189.43 90.68 193.15 92.40 195.50 94.30 C197.85 96.20 198.92 98.27 200.50 100.50 C202.08 102.73 203.87 104.98 205.00 107.70 C206.13 110.42 206.77 113.92 207.30 116.80 C207.83 119.68 208.05 119.22 208.20 125.00 C208.35 130.78 208.20 147.08 208.20 151.50" fill="none" stroke="#ff4652" stroke-width="1.0" stroke-linejoin="round" stroke-linecap="round" />
<path d="M91.80 37.30 C93.17 37.98 97.12 40.12 100.00 41.40 C102.88 42.68 106.07 43.33 109.10 45.00 C112.13 46.67 115.47 49.13 118.20 51.40 C120.93 53.67 123.53 56.18 125.50 58.60 C127.47 61.02 128.80 63.17 130.00 65.90 C131.20 68.63 131.95 72.48 132.70 75.00 C133.45 77.52 134.05 78.50 134.50 81.00 C134.95 83.50 135.22 84.42 135.40 90.00 C135.58 95.58 135.57 110.42 135.60 114.50" fill="none" stroke="#ff4652" stroke-width="1.0" stroke-linejoin="round" stroke-linecap="round" />
<path d="M135.70 114.50 C135.72 111.25 135.67 99.92 135.80 95.00 C135.93 90.08 136.22 87.58 136.50 85.00 C136.78 82.42 136.92 81.25 137.50 79.50 C138.08 77.75 138.98 75.82 140.00 74.50 C141.02 73.18 142.23 72.25 143.60 71.60 C144.97 70.95 145.92 70.72 148.20 70.60 C150.48 70.48 153.97 70.62 157.30 70.90 C160.63 71.18 163.35 71.62 168.20 72.30 C173.05 72.98 181.10 74.28 186.40 75.00 C191.70 75.72 193.57 75.90 200.00 76.60 C206.43 77.30 219.35 78.63 225.00 79.20 C230.65 79.77 230.93 79.87 233.90 80.00 C236.87 80.13 240.42 80.07 242.80 80.00 C245.18 79.93 246.27 80.27 248.20 79.60 C250.13 78.93 252.47 77.18 254.40 76.00 C256.33 74.82 258.67 73.42 259.80 72.50 C260.93 71.58 260.97 70.83 261.20 70.50" fill="none" stroke="#ff4652" stroke-width="1.0" stroke-linejoin="round" stroke-linecap="round" />
<path d="M259 69.6 C261.5 68.6 263.5 70 262.3 72.2" fill="none" stroke="#ff4652" stroke-width="1"/>
<path d="M261.20 75.20L260.25 78.97L257.65 76.79Z" fill="#ff4652"/>
<path d="M261.50 74.30 C260.32 75.48 256.77 79.33 254.40 81.40 C252.03 83.47 249.97 85.37 247.30 86.70 C244.63 88.03 241.37 88.43 238.40 89.40 C235.43 90.37 231.88 91.57 229.50 92.50 C227.12 93.43 226.37 93.67 224.10 95.00 C221.83 96.33 218.02 98.53 215.90 100.50 C213.78 102.47 212.47 104.38 211.40 106.80 C210.33 109.22 209.97 111.97 209.50 115.00 C209.03 118.03 208.78 118.92 208.60 125.00 C208.42 131.08 208.43 147.08 208.40 151.50" fill="none" stroke="#ff4652" stroke-width="1.0" stroke-linejoin="round" stroke-linecap="round" />
<path d="M135.50 115.00V195.00" stroke="#ff4652" stroke-width="1.1" stroke-dasharray="3.3 3.2" fill="none"/>
<path d="M91.30 64.00 C91.43 64.97 91.67 68.02 92.10 69.80 C92.53 71.58 93.15 73.20 93.90 74.70 C94.65 76.20 96.15 78.12 96.60 78.80" fill="none" stroke="#3f8ee6" stroke-width="1.0" stroke-linejoin="round" stroke-linecap="round" />
<path d="M91.30 77.40 L96.60 78.90" fill="none" stroke="#3f8ee6" stroke-width="0.9" />
<path d="M96.60 78.80 C97.35 79.23 98.57 80.22 101.10 81.40 C103.63 82.58 108.65 84.63 111.80 85.90 C114.95 87.17 117.78 88.03 120.00 89.00 C122.22 89.97 123.25 90.60 125.10 91.70 C126.95 92.80 128.23 94.02 131.10 95.60 C133.97 97.18 139.15 99.78 142.30 101.20 C145.45 102.62 146.45 102.93 150.00 104.10 C153.55 105.27 159.05 106.92 163.60 108.20 C168.15 109.48 172.07 110.52 177.30 111.80 C182.53 113.08 189.78 114.53 195.00 115.90 C200.22 117.27 204.52 118.52 208.60 120.00 C212.68 121.48 216.68 123.30 219.50 124.80 C222.32 126.30 223.90 127.07 225.50 129.00 C227.10 130.93 228.05 132.90 229.10 136.40 C230.15 139.90 231.25 145.23 231.80 150.00 C232.35 154.77 232.30 162.50 232.40 165.00" fill="none" stroke="#3f8ee6" stroke-width="1.0" stroke-linejoin="round" stroke-linecap="round" />
<path d="M232.60 165.00 C232.67 162.50 232.77 154.00 233.00 150.00 C233.23 146.00 233.13 144.33 234.00 141.00 C234.87 137.67 235.98 133.20 238.20 130.00 C240.42 126.80 243.97 124.15 247.30 121.80 C250.63 119.45 255.17 117.57 258.20 115.90 C261.23 114.23 264.28 112.48 265.50 111.80" fill="none" stroke="#3f8ee6" stroke-width="1.0" stroke-linejoin="round" stroke-linecap="round" />
<path d="M96.60 79.20 C97.65 79.87 100.37 81.48 102.90 83.20 C105.43 84.92 108.95 87.43 111.80 89.50 C114.65 91.57 117.52 93.77 120.00 95.60 C122.48 97.43 124.65 98.63 126.70 100.50 C128.75 102.37 130.63 104.08 132.30 106.80 C133.97 109.52 135.65 114.45 136.70 116.80 C137.75 119.15 137.95 118.70 138.60 120.90 C139.25 123.10 140.15 126.52 140.60 130.00 C141.05 133.48 141.17 131.63 141.30 141.80 C141.43 151.97 141.38 182.80 141.40 191.00" fill="none" stroke="#3f8ee6" stroke-width="1.0" stroke-linejoin="round" stroke-linecap="round" />
<path d="M141.60 191.00 C141.60 182.80 141.48 151.97 141.60 141.80 C141.72 131.63 141.58 133.63 142.30 130.00 C143.02 126.37 144.23 122.73 145.90 120.00 C147.57 117.27 150.03 115.12 152.30 113.60 C154.57 112.08 157.62 111.62 159.50 110.90 C161.38 110.18 160.63 109.60 163.60 109.30 C166.57 109.00 172.07 109.10 177.30 109.10 C182.53 109.10 186.75 109.12 195.00 109.30 C203.25 109.48 218.47 110.00 226.80 110.20 C235.13 110.40 238.55 110.45 245.00 110.50 C251.45 110.55 262.08 110.50 265.50 110.50" fill="none" stroke="#3f8ee6" stroke-width="1.0" stroke-linejoin="round" stroke-linecap="round" />
<path d="M265.8 107.2 C268.5 109 268.5 113 266 115" fill="none" stroke="#2a2ae6" stroke-width="1.3"/>
<path d="M151.50 48.20 L151.50 70.40" fill="none" stroke="#ff4652" stroke-width="1.0" stroke-dasharray="1.2 1.2"/>
<path d="M245.90 48.20 L245.90 77.30" fill="none" stroke="#ff4652" stroke-width="1.0" stroke-dasharray="1.2 1.2"/>
<path d="M154.50 48.20 L242.60 48.20" fill="none" stroke="#ff4652" stroke-width="1.0" />
<path d="M151.50 48.20L156.50 45.60L156.50 50.80Z" fill="#ff4652"/>
<path d="M245.60 48.20L240.60 50.80L240.60 45.60Z" fill="#ff4652"/>
<text x="180.40" y="45.60" text-anchor="middle" style='font-family:"Liberation Serif", serif' font-size="8.6" fill="#ff4652" stroke="#ff4652" stroke-width="0.3" textLength="43.8" lengthAdjust="spacingAndGlyphs" >Passive range</text>
<text x="166.50" y="21.50" text-anchor="middle" style='font-family:"Liberation Serif", serif' font-size="8.6" fill="#ff4652" stroke="#ff4652" stroke-width="0.3" textLength="24" lengthAdjust="spacingAndGlyphs" >Passive</text>
<text x="166.50" y="30.50" text-anchor="middle" style='font-family:"Liberation Serif", serif' font-size="8.6" fill="#ff4652" stroke="#ff4652" stroke-width="0.3" textLength="37" lengthAdjust="spacingAndGlyphs" >breakdown</text>
<path d="M182.00 23.00 L243.00 74.80" fill="none" stroke="#ff4652" stroke-width="1.0" />
<path d="M245.80 77.30L240.44 75.89L243.55 72.23Z" fill="#ff4652"/>
<path d="M164.80 110.50 L164.80 173.20" fill="none" stroke="#1aa6e6" stroke-width="1.0" stroke-dasharray="1.2 1.2"/>
<path d="M266.80 114.50 L266.80 173.20" fill="none" stroke="#1aa6e6" stroke-width="1.0" stroke-dasharray="1.2 1.2"/>
<path d="M167.80 173.20 L263.80 173.20" fill="none" stroke="#1aa6e6" stroke-width="1.0" />
<path d="M164.80 173.20L169.80 170.60L169.80 175.80Z" fill="#1aa6e6"/>
<path d="M266.80 173.20L261.80 175.80L261.80 170.60Z" fill="#1aa6e6"/>
<text x="219.20" y="179.20" text-anchor="middle" style='font-family:"Liberation Serif", serif' font-size="8.6" fill="#1aa6e6" stroke="#1aa6e6" stroke-width="0.3" textLength="44.2" lengthAdjust="spacingAndGlyphs" >Passive range</text>
<text x="191.50" y="154.80" text-anchor="middle" style='font-family:"Liberation Serif", serif' font-size="8.6" fill="#1aa6e6" stroke="#1aa6e6" stroke-width="0.3" textLength="24.2" lengthAdjust="spacingAndGlyphs" >Passive</text>
<text x="191.75" y="163.40" text-anchor="middle" style='font-family:"Liberation Serif", serif' font-size="8.6" fill="#1aa6e6" stroke="#1aa6e6" stroke-width="0.3" textLength="36.9" lengthAdjust="spacingAndGlyphs" >breakdown</text>
<path d="M210.50 161.50 L258.50 114.80" fill="none" stroke="#1aa6e6" stroke-width="1.0" />
<path d="M261.30 112.20L259.30 117.33L256.11 114.02Z" fill="#1aa6e6"/>
<path d="M205.60 16.60 L226.10 16.60" fill="none" stroke="#4a4a4a" stroke-width="1.25" />
<text x="228.60" y="19.20" font-size="10.4" fill="#2a2a2a" textLength="38.5" lengthAdjust="spacingAndGlyphs">Uncoated</text>
<path d="M205.60 28.70 L226.10 28.70" fill="none" stroke="#ff4652" stroke-width="1.25" />
<text x="228.60" y="31.30" font-size="10.4" fill="#2a2a2a" textLength="26.2" lengthAdjust="spacingAndGlyphs">H<tspan font-size="6.5" dy="2">2</tspan><tspan dy="-2">SO</tspan><tspan font-size="6.5" dy="2">4</tspan></text>
<path d="M205.60 42.40 L226.10 42.40" fill="none" stroke="#3f8ee6" stroke-width="1.25" />
<text x="228.60" y="45.00" font-size="10.4" fill="#2a2a2a" textLength="26.2" lengthAdjust="spacingAndGlyphs">H<tspan font-size="6.5" dy="2">3</tspan><tspan dy="-2">PO</tspan><tspan font-size="6.5" dy="2">4</tspan></text>
<path d="M331.10 15.90 L338.40 18.60" fill="none" stroke="#ff4652" stroke-width="2.0" />
<path d="M338.40 18.20 C339.45 18.73 342.58 20.12 344.70 21.40 C346.82 22.68 349.13 24.47 351.10 25.90 C353.07 27.33 354.83 28.40 356.50 30.00 C358.17 31.60 359.88 33.75 361.10 35.50 C362.32 37.25 362.77 38.38 363.80 40.50 C364.83 42.62 366.12 45.70 367.30 48.20 C368.48 50.70 369.70 53.38 370.90 55.50 C372.10 57.62 373.13 59.55 374.50 60.90 C375.87 62.25 377.27 62.83 379.10 63.60 C380.93 64.37 383.98 64.97 385.50 65.50 C387.02 66.03 387.15 66.20 388.20 66.80 C389.25 67.40 390.43 67.97 391.80 69.10 C393.17 70.23 394.88 72.23 396.40 73.60 C397.92 74.97 399.23 76.20 400.90 77.30 C402.57 78.40 404.58 79.15 406.40 80.20 C408.22 81.25 409.98 82.42 411.80 83.60 C413.62 84.78 415.70 86.15 417.30 87.30 C418.90 88.45 419.52 89.22 421.40 90.50 C423.28 91.78 426.25 93.33 428.60 95.00 C430.95 96.67 433.45 98.68 435.50 100.50 C437.55 102.32 439.40 103.93 440.90 105.90 C442.40 107.87 443.67 110.03 444.50 112.30 C445.33 114.57 445.58 116.88 445.90 119.50 C446.22 122.12 446.28 124.20 446.40 128.00 C446.52 131.80 446.57 139.92 446.60 142.30" fill="none" stroke="#ff4652" stroke-width="1.0" stroke-linejoin="round" stroke-linecap="round" />
<path d="M446.80 142.30 C446.80 139.92 446.72 131.80 446.80 128.00 C446.88 124.20 446.92 122.12 447.30 119.50 C447.68 116.88 448.05 114.72 449.10 112.30 C450.15 109.88 451.48 107.28 453.60 105.00 C455.72 102.72 458.92 100.57 461.80 98.60 C464.68 96.63 467.87 94.87 470.90 93.20 C473.93 91.53 477.82 89.47 480.00 88.60 C482.18 87.73 483.33 88.10 484.00 88.00" fill="none" stroke="#ff4652" stroke-width="1.0" stroke-linejoin="round" stroke-linecap="round" />
<path d="M338.40 19.10 C339.30 19.85 341.98 21.93 343.80 23.60 C345.62 25.27 347.63 27.28 349.30 29.10 C350.97 30.92 352.43 32.53 353.80 34.50 C355.17 36.47 356.32 38.62 357.50 40.90 C358.68 43.18 359.57 45.93 360.90 48.20 C362.23 50.47 363.98 52.68 365.50 54.50 C367.02 56.32 368.50 57.88 370.00 59.10 C371.50 60.32 372.98 60.58 374.50 61.80 C376.02 63.02 377.58 64.73 379.10 66.40 C380.62 68.07 382.08 69.83 383.60 71.80 C385.12 73.77 386.68 76.23 388.20 78.20 C389.72 80.17 391.63 81.63 392.70 83.60 C393.77 85.57 394.20 86.43 394.60 90.00 C395.00 93.57 395.00 99.17 395.10 105.00 C395.20 110.83 395.18 121.67 395.20 125.00" fill="none" stroke="#ff4652" stroke-width="1.0" stroke-linejoin="round" stroke-linecap="round" />
<path d="M395.40 125.00 C395.43 120.83 395.40 105.83 395.60 100.00 C395.80 94.17 396.12 92.25 396.60 90.00 C397.08 87.75 397.85 86.75 398.50 86.50 C399.15 86.25 399.95 87.08 400.50 88.50 C401.05 89.92 401.45 92.25 401.80 95.00 C402.15 97.75 402.45 101.97 402.60 105.00 C402.75 108.03 402.68 111.83 402.70 113.20" fill="none" stroke="#ff4652" stroke-width="1.0" stroke-linejoin="round" stroke-linecap="round" />
<path d="M402.80 113.20 C402.83 111.50 402.80 106.53 403.00 103.00 C403.20 99.47 403.50 94.75 404.00 92.00 C404.50 89.25 405.20 87.50 406.00 86.50 C406.80 85.50 408.08 85.08 408.80 86.00 C409.52 86.92 409.90 89.17 410.30 92.00 C410.70 94.83 411.02 99.17 411.20 103.00 C411.38 106.83 411.37 113.00 411.40 115.00" fill="none" stroke="#ff4652" stroke-width="1.0" stroke-linejoin="round" stroke-linecap="round" />
<path d="M411.50 115.00 C411.55 112.50 411.60 104.50 411.80 100.00 C412.00 95.50 412.25 90.73 412.70 88.00 C413.15 85.27 413.73 84.63 414.50 83.60 C415.27 82.57 416.38 82.20 417.30 81.80 C418.22 81.40 417.43 81.07 420.00 81.20 C422.57 81.33 427.87 82.07 432.70 82.60 C437.53 83.13 443.53 83.87 449.00 84.40 C454.47 84.93 460.67 85.45 465.50 85.80 C470.33 86.15 475.42 86.42 478.00 86.50 C480.58 86.58 480.50 86.33 481.00 86.30" fill="none" stroke="#ff4652" stroke-width="1.0" stroke-linejoin="round" stroke-linecap="round" />
<path d="M481 86.3 C485 86 487 89 485.3 92" fill="none" stroke="#ff4652" stroke-width="1"/>
<path d="M483.30 95.50L483.33 91.65L486.23 93.00Z" fill="#ff4652"/>
<path d="M395.20 126.00V194.00" stroke="#ff4652" stroke-width="1.2" stroke-dasharray="3.7 3.3" fill="none"/>
<path d="M347.50 35.00 C347.80 35.68 348.88 38.12 349.30 39.10 C349.72 40.08 349.88 40.60 350.00 40.90" fill="none" stroke="#3a3a3a" stroke-width="1.0" stroke-linejoin="round" stroke-linecap="round" />
<path d="M350.00 40.90 C349.70 41.13 348.65 41.53 348.20 42.30 C347.75 43.07 347.45 44.97 347.30 45.50" fill="none" stroke="#3a3a3a" stroke-width="1.0" stroke-linejoin="round" stroke-linecap="round" />
<path d="M350.00 40.90 C350.30 41.67 351.05 43.83 351.80 45.50 C352.55 47.17 353.43 49.08 354.50 50.90 C355.57 52.72 356.83 54.65 358.20 56.40 C359.57 58.15 361.18 60.23 362.70 61.40 C364.22 62.57 365.78 62.72 367.30 63.40 C368.82 64.08 370.13 64.40 371.80 65.50 C373.47 66.60 375.33 68.50 377.30 70.00 C379.27 71.50 381.48 72.98 383.60 74.50 C385.72 76.02 388.02 77.58 390.00 79.10 C391.98 80.62 393.68 81.93 395.50 83.60 C397.32 85.27 399.08 87.50 400.90 89.10 C402.72 90.70 403.97 91.38 406.40 93.20 C408.83 95.02 412.70 97.88 415.50 100.00 C418.30 102.12 421.02 103.85 423.20 105.90 C425.38 107.95 427.23 110.18 428.60 112.30 C429.97 114.42 430.72 116.48 431.40 118.60 C432.08 120.72 432.30 122.27 432.70 125.00 C433.10 127.73 433.57 130.92 433.80 135.00 C434.03 139.08 434.05 147.08 434.10 149.50" fill="none" stroke="#3a3a3a" stroke-width="1.0" stroke-linejoin="round" stroke-linecap="round" />
<path d="M350.00 41.80 C350.75 42.72 352.83 45.33 354.50 47.30 C356.17 49.27 358.17 51.48 360.00 53.60 C361.83 55.72 363.98 58.40 365.50 60.00 C367.02 61.60 367.13 61.68 369.10 63.20 C371.07 64.72 374.88 67.05 377.30 69.10 C379.72 71.15 381.78 73.53 383.60 75.50 C385.42 77.47 386.68 79.08 388.20 80.90 C389.72 82.72 391.57 84.43 392.70 86.40 C393.83 88.37 394.40 90.43 395.00 92.70 C395.60 94.97 396.00 94.62 396.30 100.00 C396.60 105.38 396.72 120.83 396.80 125.00" fill="none" stroke="#3a3a3a" stroke-width="1.0" stroke-linejoin="round" stroke-linecap="round" />
<path d="M397.00 125.00 C397.03 120.83 396.95 105.33 397.20 100.00 C397.45 94.67 397.95 94.75 398.50 93.00 C399.05 91.25 399.58 90.75 400.50 89.50 C401.42 88.25 402.75 86.67 404.00 85.50 C405.25 84.33 406.83 83.32 408.00 82.50 C409.17 81.68 409.75 81.27 411.00 80.60 C412.25 79.93 414.00 78.97 415.50 78.50 C417.00 78.03 418.50 78.22 420.00 77.80 C421.50 77.38 422.23 76.58 424.50 76.00 C426.77 75.42 429.80 74.82 433.60 74.30 C437.40 73.78 441.23 73.43 447.30 72.90 C453.37 72.37 462.88 71.52 470.00 71.10 C477.12 70.68 485.58 70.55 490.00 70.40 C494.42 70.25 495.42 70.23 496.50 70.20" fill="none" stroke="#3a3a3a" stroke-width="1.0" stroke-linejoin="round" stroke-linecap="round" />
<path d="M496.5 70.2 C499 69 501.2 71 500.2 73.8" fill="none" stroke="#3a3a3a" stroke-width="1"/>
<path d="M497.60 79.00L498.88 74.49L501.09 75.87Z" fill="#111"/>
<path d="M498.00 71.50 C496.67 72.75 492.67 76.58 490.00 79.00 C487.33 81.42 484.83 83.83 482.00 86.00 C479.17 88.17 475.60 90.65 473.00 92.00 C470.40 93.35 469.02 92.85 466.40 94.10 C463.78 95.35 460.33 97.68 457.30 99.50 C454.27 101.32 450.48 103.48 448.20 105.00 C445.92 106.52 445.12 107.08 443.60 108.60 C442.08 110.12 440.40 111.97 439.10 114.10 C437.80 116.23 436.57 118.75 435.80 121.40 C435.03 124.05 434.77 125.32 434.50 130.00 C434.23 134.68 434.25 146.25 434.20 149.50" fill="none" stroke="#3a3a3a" stroke-width="1.0" stroke-linejoin="round" stroke-linecap="round" />
<path d="M397.20 126.00V194.00" stroke="#3a3a3a" stroke-width="1.2" stroke-dasharray="3.7 3.3" fill="none"/>
<path d="M377.30 68.20 C377.60 69.10 378.05 71.72 379.10 73.60 C380.15 75.48 381.93 77.60 383.60 79.50 C385.27 81.40 387.37 83.33 389.10 85.00 C390.83 86.67 392.35 87.83 394.00 89.50 C395.65 91.17 397.58 93.33 399.00 95.00 C400.42 96.67 401.50 97.98 402.50 99.50 C403.50 101.02 403.83 102.12 405.00 104.10 C406.17 106.08 408.42 109.42 409.50 111.40 C410.58 113.38 410.82 114.18 411.50 116.00 C412.18 117.82 413.02 120.20 413.60 122.30 C414.18 124.40 414.70 124.82 415.00 128.60 C415.30 132.38 415.33 139.68 415.40 145.00 C415.47 150.32 415.40 157.92 415.40 160.50" fill="none" stroke="#3f8ee6" stroke-width="1.0" stroke-linejoin="round" stroke-linecap="round" />
<path d="M415.60 160.50 C415.60 157.92 415.53 150.32 415.60 145.00 C415.67 139.68 415.57 132.38 416.00 128.60 C416.43 124.82 417.23 123.80 418.20 122.30 C419.17 120.80 420.43 120.13 421.80 119.60 C423.17 119.07 424.73 118.95 426.40 119.10 C428.07 119.25 429.38 119.97 431.80 120.50 C434.22 121.03 437.87 121.78 440.90 122.30 C443.93 122.82 446.28 123.00 450.00 123.60 C453.72 124.20 457.97 125.13 463.20 125.90 C468.43 126.67 475.80 127.65 481.40 128.20 C487.00 128.75 490.60 129.03 496.80 129.20 C503.00 129.37 513.73 129.28 518.60 129.20 C523.47 129.12 524.77 128.78 526.00 128.70" fill="none" stroke="#3f8ee6" stroke-width="1.0" stroke-linejoin="round" stroke-linecap="round" />
<path d="M526.5 125.4 C530 126.5 531 131 527.5 134" fill="none" stroke="#2a2ae6" stroke-width="1.3"/>
<path d="M378.20 70.90 C379.10 71.67 381.48 73.98 383.60 75.50 C385.72 77.02 388.58 78.42 390.90 80.00 C393.22 81.58 395.42 83.28 397.50 85.00 C399.58 86.72 401.48 88.13 403.40 90.30 C405.32 92.47 407.07 95.85 409.00 98.00 C410.93 100.15 412.93 101.28 415.00 103.20 C417.07 105.12 419.28 107.23 421.40 109.50 C423.52 111.77 425.20 114.52 427.70 116.80 C430.20 119.08 433.75 121.53 436.40 123.20 C439.05 124.87 441.33 125.75 443.60 126.80 C445.87 127.85 448.25 128.67 450.00 129.50 C451.75 130.33 451.90 130.80 454.10 131.80 C456.30 132.80 460.17 134.13 463.20 135.50 C466.23 136.87 469.50 138.00 472.30 140.00 C475.10 142.00 477.88 145.00 480.00 147.50 C482.12 150.00 483.87 152.10 485.00 155.00 C486.13 157.90 486.42 159.52 486.80 164.90 C487.18 170.28 487.22 183.57 487.30 187.30" fill="none" stroke="#3f8ee6" stroke-width="1.0" stroke-linejoin="round" stroke-linecap="round" />
<path d="M487.50 187.30 C487.55 183.58 487.50 170.18 487.80 165.00 C488.10 159.82 488.12 159.12 489.30 156.20 C490.48 153.28 492.30 150.20 494.90 147.50 C497.50 144.80 502.22 141.93 504.90 140.00 C507.58 138.07 508.35 137.25 511.00 135.90 C513.65 134.55 518.13 132.98 520.80 131.90 C523.47 130.82 525.97 129.82 527.00 129.40" fill="none" stroke="#3f8ee6" stroke-width="1.0" stroke-linejoin="round" stroke-linecap="round" />
<path d="M415.40 162.00V194.00" stroke="#4646ee" stroke-width="1.2" stroke-dasharray="3.7 3.3" fill="none"/>
<path d="M416.60 57.30 L416.60 77.00" fill="none" stroke="#ff4652" stroke-width="1.0" stroke-dasharray="1.2 1.2"/>
<path d="M480.20 57.30 L480.20 85.00" fill="none" stroke="#ff4652" stroke-width="1.0" stroke-dasharray="1.2 1.2"/>
<path d="M419.60 57.30 L477.20 57.30" fill="none" stroke="#ff4652" stroke-width="1.0" />
<path d="M416.60 57.30L421.60 54.70L421.60 59.90Z" fill="#ff4652"/>
<path d="M480.20 57.30L475.20 59.90L475.20 54.70Z" fill="#ff4652"/>
<text x="447.50" y="53.50" text-anchor="middle" style='font-family:"Liberation Serif", serif' font-size="8.6" fill="#ff4652" stroke="#ff4652" stroke-width="0.3" textLength="45" lengthAdjust="spacingAndGlyphs" >Passive range</text>
<text x="521.20" y="63.50" text-anchor="middle" style='font-family:"Liberation Serif", serif' font-size="8.6" fill="#ff4652" stroke="#ff4652" stroke-width="0.3" textLength="24" lengthAdjust="spacingAndGlyphs" >Passive</text>
<text x="521.20" y="72.00" text-anchor="middle" style='font-family:"Liberation Serif", serif' font-size="8.6" fill="#ff4652" stroke="#ff4652" stroke-width="0.3" textLength="36" lengthAdjust="spacingAndGlyphs" >breakdown</text>
<path d="M507.00 64.00 L485.50 83.30" fill="none" stroke="#ff4652" stroke-width="1.0" />
<path d="M483.00 85.60L484.94 81.03L487.75 84.15Z" fill="#ff4652"/>
<path d="M426.40 120.50 L426.40 191.70" fill="none" stroke="#1aa6e6" stroke-width="1.0" stroke-dasharray="1.2 1.2"/>
<path d="M521.90 131.40 L521.90 191.70" fill="none" stroke="#1aa6e6" stroke-width="1.0" stroke-dasharray="1.2 1.2"/>
<path d="M429.40 191.90 L518.90 191.90" fill="none" stroke="#1aa6e6" stroke-width="1.0" />
<path d="M426.40 191.90L431.40 189.30L431.40 194.50Z" fill="#1aa6e6"/>
<path d="M521.90 191.90L516.90 194.50L516.90 189.30Z" fill="#1aa6e6"/>
<text x="455.50" y="187.20" text-anchor="middle" style='font-family:"Liberation Serif", serif' font-size="8.6" fill="#1aa6e6" stroke="#1aa6e6" stroke-width="0.3" textLength="44.5" lengthAdjust="spacingAndGlyphs" >Passive range</text>
<text x="483.00" y="109.50" text-anchor="middle" style='font-family:"Liberation Serif", serif' font-size="8.6" fill="#1aa6e6" stroke="#1aa6e6" stroke-width="0.3" textLength="24" lengthAdjust="spacingAndGlyphs" >Passive</text>
<text x="483.50" y="118.60" text-anchor="middle" style='font-family:"Liberation Serif", serif' font-size="8.6" fill="#1aa6e6" stroke="#1aa6e6" stroke-width="0.3" textLength="37" lengthAdjust="spacingAndGlyphs" >breakdown</text>
<path d="M502.30 117.20 L516.00 125.80" fill="none" stroke="#1aa6e6" stroke-width="1.0" />
<path d="M518.80 127.60L513.39 126.82L515.73 123.08Z" fill="#1aa6e6"/>
<path d="M474.20 19.30 L494.70 19.30" fill="none" stroke="#4a4a4a" stroke-width="1.25" />
<text x="497.20" y="21.90" font-size="10.4" fill="#2a2a2a" textLength="38.5" lengthAdjust="spacingAndGlyphs">Uncoated</text>
<path d="M474.20 31.30 L494.70 31.30" fill="none" stroke="#ff4652" stroke-width="1.25" />
<text x="497.20" y="33.90" font-size="10.4" fill="#2a2a2a" textLength="26.2" lengthAdjust="spacingAndGlyphs">H<tspan font-size="6.5" dy="2">2</tspan><tspan dy="-2">SO</tspan><tspan font-size="6.5" dy="2">4</tspan></text>
<path d="M474.20 45.30 L494.70 45.30" fill="none" stroke="#3f8ee6" stroke-width="1.25" />
<text x="497.20" y="47.90" font-size="10.4" fill="#2a2a2a" textLength="26.2" lengthAdjust="spacingAndGlyphs">H<tspan font-size="6.5" dy="2">3</tspan><tspan dy="-2">PO</tspan><tspan font-size="6.5" dy="2">4</tspan></text>
<path d="M73.60 232.10 C73.68 233.23 73.95 236.55 74.10 238.90 C74.25 241.25 74.20 244.68 74.50 246.20 C74.80 247.72 75.67 247.70 75.90 248.00" fill="none" stroke="#3a3a3a" stroke-width="1.0" stroke-linejoin="round" stroke-linecap="round" />
<path d="M75.90 248.00 C76.05 248.75 75.88 250.83 76.80 252.50 C77.72 254.17 79.88 256.48 81.40 258.00 C82.92 259.52 84.55 260.68 85.90 261.60 C87.25 262.52 88.13 263.07 89.50 263.50 C90.87 263.93 92.73 263.57 94.10 264.20 C95.47 264.83 96.18 265.73 97.70 267.30 C99.22 268.87 101.57 271.65 103.20 273.60 C104.83 275.55 105.65 276.93 107.50 279.00 C109.35 281.07 112.18 283.75 114.30 286.00 C116.42 288.25 118.42 290.43 120.20 292.50 C121.98 294.57 123.67 296.48 125.00 298.40 C126.33 300.32 127.22 301.68 128.20 304.00 C129.18 306.32 130.22 308.80 130.90 312.30 C131.58 315.80 132.00 316.38 132.30 325.00 C132.60 333.62 132.63 357.50 132.70 364.00" fill="none" stroke="#3a3a3a" stroke-width="1.0" stroke-linejoin="round" stroke-linecap="round" />
<path d="M132.90 364.00 C132.92 357.50 132.57 333.62 133.00 325.00 C133.43 316.38 134.33 315.63 135.50 312.30 C136.67 308.97 138.18 307.13 140.00 305.00 C141.82 302.87 144.13 301.62 146.40 299.50 C148.67 297.38 151.33 294.72 153.60 292.30 C155.87 289.88 158.25 287.65 160.00 285.00 C161.75 282.35 162.35 279.35 164.10 276.40 C165.85 273.45 168.23 269.50 170.50 267.30 C172.77 265.10 175.73 264.03 177.70 263.20 C179.67 262.37 177.75 262.57 182.30 262.30 C186.85 262.03 197.97 261.75 205.00 261.60 C212.03 261.45 221.25 261.43 224.50 261.40" fill="none" stroke="#3a3a3a" stroke-width="1.0" stroke-linejoin="round" stroke-linecap="round" />
<path d="M223.8 258 C225.5 259.5 225.8 262 224.2 264.5" fill="none" stroke="#3a3a3a" stroke-width="1"/>
<path d="M222.60 267.20L223.56 262.62L225.86 263.84Z" fill="#111"/>
<path d="M222.70 265.50 C221.65 267.17 218.67 272.33 216.40 275.50 C214.13 278.67 211.68 281.78 209.10 284.50 C206.52 287.22 203.33 289.22 200.90 291.80 C198.47 294.38 196.77 297.12 194.50 300.00 C192.23 302.88 189.72 305.92 187.30 309.10 C184.88 312.28 181.97 315.62 180.00 319.10 C178.03 322.58 176.75 325.68 175.50 330.00 C174.25 334.32 173.15 338.33 172.50 345.00 C171.85 351.67 171.75 359.50 171.60 370.00 C171.45 380.50 171.60 401.67 171.60 408.00" fill="none" stroke="#3a3a3a" stroke-width="1.0" stroke-linejoin="round" stroke-linecap="round" />
<path d="M171.40 408.00 C171.40 401.67 171.55 380.50 171.40 370.00 C171.25 359.50 171.03 351.67 170.50 345.00 C169.97 338.33 169.20 334.32 168.20 330.00 C167.20 325.68 165.87 322.10 164.50 319.10 C163.13 316.10 161.82 314.20 160.00 312.00 C158.18 309.80 155.87 307.82 153.60 305.90 C151.33 303.98 149.12 302.48 146.40 300.50 C143.68 298.52 140.33 295.83 137.30 294.00 C134.27 292.17 131.38 291.00 128.20 289.50 C125.02 288.00 121.38 286.82 118.20 285.00 C115.02 283.18 111.60 280.80 109.10 278.60 C106.60 276.40 104.95 273.83 103.20 271.80 C101.45 269.77 99.67 267.63 98.60 266.40 C97.53 265.17 97.85 265.20 96.80 264.40 C95.75 263.60 93.67 262.52 92.30 261.60 C90.93 260.68 90.12 260.10 88.60 258.90 C87.08 257.70 85.17 256.07 83.20 254.40 C81.23 252.73 78.02 249.97 76.80 248.90 C75.58 247.83 76.05 248.15 75.90 248.00" fill="none" stroke="#3a3a3a" stroke-width="1.0" stroke-linejoin="round" stroke-linecap="round" />
<path d="M132.70 367.00V413.00" stroke="#555" stroke-width="1.1" stroke-dasharray="3.3 3" fill="none"/>
<path d="M88.20 238.90 C88.42 239.67 88.52 241.38 89.50 243.50 C90.48 245.62 92.58 249.03 94.10 251.60 C95.62 254.17 97.08 256.40 98.60 258.90 C100.12 261.40 102.43 265.32 103.20 266.60" fill="none" stroke="#ff4652" stroke-width="1.0" stroke-linejoin="round" stroke-linecap="round" />
<path d="M103.20 266.60 C104.08 267.67 106.00 270.38 108.50 273.00 C111.00 275.62 115.07 280.15 118.20 282.30 C121.33 284.45 124.27 284.77 127.30 285.90 C130.33 287.03 132.92 287.73 136.40 289.10 C139.88 290.47 144.27 292.25 148.20 294.10 C152.13 295.95 156.52 297.85 160.00 300.20 C163.48 302.55 166.37 305.50 169.10 308.20 C171.83 310.90 174.43 313.68 176.40 316.40 C178.37 319.12 179.85 322.23 180.90 324.50 C181.95 326.77 182.08 326.58 182.70 330.00 C183.32 333.42 184.17 339.17 184.60 345.00 C185.03 350.83 185.15 357.87 185.30 365.00 C185.45 372.13 185.47 384.00 185.50 387.80" fill="none" stroke="#ff4652" stroke-width="1.0" stroke-linejoin="round" stroke-linecap="round" />
<path d="M103.20 267.20 C103.95 268.58 106.33 272.92 107.70 275.50 C109.07 278.08 110.18 280.43 111.40 282.70 C112.62 284.97 113.87 287.05 115.00 289.10 C116.13 291.15 117.07 292.35 118.20 295.00 C119.33 297.65 120.75 301.82 121.80 305.00 C122.85 308.18 123.73 310.77 124.50 314.10 C125.27 317.43 125.93 320.68 126.40 325.00 C126.87 329.32 127.10 335.17 127.30 340.00 C127.50 344.83 127.55 351.67 127.60 354.00" fill="none" stroke="#ff4652" stroke-width="1.0" stroke-linejoin="round" stroke-linecap="round" />
<path d="M127.80 354.00 C127.82 351.67 127.92 344.83 127.90 340.00 C127.88 335.17 127.20 329.62 127.70 325.00 C128.20 320.38 129.45 315.93 130.90 312.30 C132.35 308.67 134.58 305.63 136.40 303.20 C138.22 300.77 139.83 299.22 141.80 297.70 C143.77 296.18 145.17 295.15 148.20 294.10 C151.23 293.05 155.00 291.55 160.00 291.40 C165.00 291.25 172.13 293.13 178.20 293.20 C184.27 293.27 192.17 292.48 196.40 291.80 C200.63 291.12 199.97 291.07 203.60 289.10 C207.23 287.13 213.80 282.58 218.20 280.00 C222.60 277.42 226.95 275.52 230.00 273.60 C233.05 271.68 235.42 269.35 236.50 268.50" fill="none" stroke="#ff4652" stroke-width="1.0" stroke-linejoin="round" stroke-linecap="round" />
<path d="M235.5 267.3 C238 267.2 240 268.5 239.1 271" fill="none" stroke="#ff4652" stroke-width="1"/>
<path d="M239.60 276.50L238.40 272.50L240.80 272.50Z" fill="#ff4652"/>
<path d="M238.20 270.90 C236.83 272.42 232.58 277.12 230.00 280.00 C227.42 282.88 226.03 284.72 222.70 288.20 C219.37 291.68 212.57 298.48 210.00 300.90 C207.43 303.32 209.12 301.18 207.30 302.70 C205.48 304.22 201.53 307.27 199.10 310.00 C196.67 312.73 194.37 315.77 192.70 319.10 C191.03 322.43 190.12 325.68 189.10 330.00 C188.08 334.32 187.13 339.17 186.60 345.00 C186.07 350.83 186.05 357.87 185.90 365.00 C185.75 372.13 185.73 384.00 185.70 387.80" fill="none" stroke="#ff4652" stroke-width="1.0" stroke-linejoin="round" stroke-linecap="round" />
<path d="M127.60 357.00V413.00" stroke="#ff4652" stroke-width="1.1" stroke-dasharray="3.3 3" fill="none"/>
<path d="M91.40 243.90 C91.47 245.03 91.50 248.35 91.80 250.70 C92.10 253.05 92.37 255.53 93.20 258.00 C94.03 260.47 95.43 263.05 96.80 265.50 C98.17 267.95 99.88 270.28 101.40 272.70 C102.92 275.12 104.38 277.72 105.90 280.00 C107.42 282.28 109.07 283.90 110.50 286.40 C111.93 288.90 113.07 291.75 114.50 295.00 C115.93 298.25 117.88 302.72 119.10 305.90 C120.32 309.08 121.05 310.92 121.80 314.10 C122.55 317.28 123.15 319.85 123.60 325.00 C124.05 330.15 124.32 337.67 124.50 345.00 C124.68 352.33 124.67 365.00 124.70 369.00" fill="none" stroke="#3f8ee6" stroke-width="1.0" stroke-linejoin="round" stroke-linecap="round" />
<path d="M124.90 369.00 C124.92 365.00 124.90 352.33 125.00 345.00 C125.10 337.67 124.82 330.45 125.50 325.00 C126.18 319.55 127.60 315.78 129.10 312.30 C130.60 308.82 132.53 306.23 134.50 304.10 C136.47 301.97 138.62 300.87 140.90 299.50 C143.18 298.13 145.02 296.80 148.20 295.90 C151.38 295.00 155.00 294.02 160.00 294.10 C165.00 294.18 172.90 295.57 178.20 296.40 C183.50 297.23 186.50 297.90 191.80 299.10 C197.10 300.30 203.03 302.78 210.00 303.60 C216.97 304.42 228.93 304.02 233.60 304.00 C238.27 303.98 237.27 303.58 238.00 303.50" fill="none" stroke="#3f8ee6" stroke-width="1.0" stroke-linejoin="round" stroke-linecap="round" />
<path d="M238.5 300.5 C242 299.5 245 302 243.5 306" fill="none" stroke="#2a2ae6" stroke-width="1.3"/>
<path d="M243.70 308.50L242.78 305.09L245.73 305.61Z" fill="#2a2ae6"/>
<path d="M91.40 274.10 C92.60 274.78 95.65 276.68 98.60 278.20 C101.55 279.72 105.83 281.65 109.10 283.20 C112.37 284.75 115.17 286.20 118.20 287.50 C121.23 288.80 124.12 289.98 127.30 291.00 C130.48 292.02 133.82 292.57 137.30 293.60 C140.78 294.63 144.42 295.83 148.20 297.20 C151.98 298.57 155.77 299.82 160.00 301.80 C164.23 303.78 169.82 306.98 173.60 309.10 C177.38 311.22 179.67 312.53 182.70 314.50 C185.73 316.47 188.62 318.32 191.80 320.90 C194.98 323.48 199.60 326.82 201.80 330.00 C204.00 333.18 203.88 336.45 205.00 340.00 C206.12 343.55 207.53 345.80 208.50 351.30 C209.47 356.80 210.28 364.38 210.80 373.00 C211.32 381.62 211.47 398.00 211.60 403.00" fill="none" stroke="#3f8ee6" stroke-width="1.0" stroke-linejoin="round" stroke-linecap="round" />
<path d="M211.80 403.00 C211.82 398.00 211.75 381.62 211.90 373.00 C212.05 364.38 211.87 357.70 212.70 351.30 C213.53 344.90 214.35 340.17 216.90 334.60 C219.45 329.03 224.75 322.55 228.00 317.90 C231.25 313.25 235.00 308.57 236.40 306.70" fill="none" stroke="#3f8ee6" stroke-width="1.0" stroke-linejoin="round" stroke-linecap="round" />
<path d="M124.70 372.00V413.00" stroke="#4646ee" stroke-width="1.2" stroke-dasharray="3.3 3" fill="none"/>
<path d="M146.00 242.20 L146.00 292.00" fill="none" stroke="#ff4652" stroke-width="1.0" stroke-dasharray="1.2 1.2"/>
<path d="M195.50 242.20 L195.50 291.80" fill="none" stroke="#ff4652" stroke-width="1.0" stroke-dasharray="1.2 1.2"/>
<path d="M149.00 242.20 L192.50 242.20" fill="none" stroke="#ff4652" stroke-width="1.0" />
<path d="M146.00 242.20L151.00 239.60L151.00 244.80Z" fill="#ff4652"/>
<path d="M195.50 242.20L190.50 244.80L190.50 239.60Z" fill="#ff4652"/>
<text x="172.00" y="239.30" text-anchor="middle" style='font-family:"Liberation Serif", serif' font-size="8.6" fill="#ff4652" stroke="#ff4652" stroke-width="0.3" textLength="44" lengthAdjust="spacingAndGlyphs" >Passive range</text>
<text x="209.70" y="244.80" text-anchor="middle" style='font-family:"Liberation Serif", serif' font-size="8.6" fill="#222" stroke="#222" stroke-width="0.12" textLength="24" lengthAdjust="spacingAndGlyphs" >Passive</text>
<text x="209.70" y="252.40" text-anchor="middle" style='font-family:"Liberation Serif", serif' font-size="8.6" fill="#222" stroke="#222" stroke-width="0.12" textLength="17.5" lengthAdjust="spacingAndGlyphs" >range</text>
<path d="M177.80 255.40 L177.80 262.50" fill="none" stroke="#3a3a3a" stroke-width="1.0" stroke-dasharray="1.2 1.2"/>
<path d="M180.80 255.40 L221.50 255.40" fill="none" stroke="#333" stroke-width="1.4" />
<path d="M177.80 255.40L182.80 252.80L182.80 258.00Z" fill="#333"/>
<path d="M224.50 255.40L219.50 258.00L219.50 252.80Z" fill="#333"/>
<path d="M250.40 282.70 L204.50 289.60" fill="none" stroke="#ff4652" stroke-width="1.0" />
<path d="M202.00 290.00L206.13 287.32L206.76 291.27Z" fill="#ff4652"/>
<text x="0.00" y="0.00" text-anchor="middle" style='font-family:"Liberation Serif", serif' font-size="8.6" fill="#ff4652" stroke="#ff4652" stroke-width="0.3" textLength="24" lengthAdjust="spacingAndGlyphs" transform="translate(255.3,289.4) rotate(-90)">Passive</text>
<text x="0.00" y="0.00" text-anchor="middle" style='font-family:"Liberation Serif", serif' font-size="8.6" fill="#ff4652" stroke="#ff4652" stroke-width="0.3" textLength="37" lengthAdjust="spacingAndGlyphs" transform="translate(264.3,289) rotate(-90)">breakdown</text>
<path d="M161.80 296.00 L161.80 410.50" fill="none" stroke="#1aa6e6" stroke-width="1.0" stroke-dasharray="1.2 1.2"/>
<path d="M235.20 306.70 L235.20 410.50" fill="none" stroke="#1aa6e6" stroke-width="1.0" stroke-dasharray="1.2 1.2"/>
<path d="M164.80 410.50 L232.20 410.50" fill="none" stroke="#1aa6e6" stroke-width="1.0" />
<path d="M161.80 410.50L166.80 407.90L166.80 413.10Z" fill="#1aa6e6"/>
<path d="M235.20 410.50L230.20 413.10L230.20 407.90Z" fill="#1aa6e6"/>
<text x="197.60" y="409.70" text-anchor="middle" style='font-family:"Liberation Serif", serif' font-size="8.6" fill="#1aa6e6" stroke="#1aa6e6" stroke-width="0.3" textLength="44" lengthAdjust="spacingAndGlyphs" >Passive range</text>
<text x="0.00" y="0.00" text-anchor="middle" style='font-family:"Liberation Serif", serif' font-size="8.6" fill="#1aa6e6" stroke="#1aa6e6" stroke-width="0.3" textLength="24" lengthAdjust="spacingAndGlyphs" transform="translate(249,336.6) rotate(-90)">Passive</text>
<text x="0.00" y="0.00" text-anchor="middle" style='font-family:"Liberation Serif", serif' font-size="8.6" fill="#1aa6e6" stroke="#1aa6e6" stroke-width="0.3" textLength="37" lengthAdjust="spacingAndGlyphs" transform="translate(258.2,337.4) rotate(-90)">breakdown</text>
<path d="M247.50 319.20 L238.00 307.50" fill="none" stroke="#1aa6e6" stroke-width="1.0" />
<path d="M236.40 305.30L240.75 307.61L237.59 310.08Z" fill="#1aa6e6"/>
<path d="M52.20 379.30 L72.70 379.30" fill="none" stroke="#4a4a4a" stroke-width="1.25" />
<text x="75.20" y="381.90" font-size="10.4" fill="#2a2a2a" textLength="38.5" lengthAdjust="spacingAndGlyphs">Uncoated</text>
<path d="M52.20 391.30 L72.70 391.30" fill="none" stroke="#ff4652" stroke-width="1.25" />
<text x="75.20" y="393.90" font-size="10.4" fill="#2a2a2a" textLength="26.2" lengthAdjust="spacingAndGlyphs">H<tspan font-size="6.5" dy="2">2</tspan><tspan dy="-2">SO</tspan><tspan font-size="6.5" dy="2">4</tspan></text>
<path d="M52.20 405.00 L72.70 405.00" fill="none" stroke="#3f8ee6" stroke-width="1.25" />
<text x="75.20" y="407.60" font-size="10.4" fill="#2a2a2a" textLength="26.2" lengthAdjust="spacingAndGlyphs">H<tspan font-size="6.5" dy="2">3</tspan><tspan dy="-2">PO</tspan><tspan font-size="6.5" dy="2">4</tspan></text>
<ellipse cx="329.3" cy="242.9" rx="1.5" ry="1.3" fill="none" stroke="#3a3a3a" stroke-width="1"/>
<path d="M329.50 244.00 C329.73 244.35 329.92 244.63 330.90 246.10 C331.88 247.57 334.28 250.57 335.40 252.80 C336.52 255.03 336.50 256.72 337.60 259.50 C338.70 262.28 340.77 266.47 342.00 269.50 C343.23 272.53 343.28 274.37 345.00 277.70 C346.72 281.03 349.88 286.32 352.30 289.50 C354.72 292.68 356.78 294.97 359.50 296.80 C362.22 298.63 366.02 299.43 368.60 300.50 C371.18 301.57 373.18 302.15 375.00 303.20 C376.82 304.25 378.13 305.13 379.50 306.80 C380.87 308.47 382.40 311.00 383.20 313.20 C384.00 315.40 384.07 316.37 384.30 320.00 C384.53 323.63 384.53 329.17 384.60 335.00 C384.67 340.83 384.68 351.67 384.70 355.00" fill="none" stroke="#3a3a3a" stroke-width="1.0" stroke-linejoin="round" stroke-linecap="round" />
<path d="M384.90 355.00 C384.92 350.83 384.95 335.83 385.00 330.00 C385.05 324.17 384.90 322.23 385.20 320.00 C385.50 317.77 385.47 317.17 386.80 316.60 C388.13 316.03 390.92 316.78 393.20 316.60 C395.48 316.42 398.23 316.07 400.50 315.50 C402.77 314.93 404.23 313.73 406.80 313.20 C409.37 312.67 412.87 312.55 415.90 312.30 C418.93 312.05 419.68 311.83 425.00 311.70 C430.32 311.57 439.08 311.57 447.80 311.50 C456.52 311.43 472.38 311.33 477.30 311.30" fill="none" stroke="#3a3a3a" stroke-width="1.0" stroke-linejoin="round" stroke-linecap="round" />
<path d="M477.3 311.3 C479 311 480.5 312.5 480.2 314.5" fill="none" stroke="#3a3a3a" stroke-width="1"/>
<path d="M479.70 318.80L479.51 314.09L482.22 314.82Z" fill="#111"/>
<path d="M330.90 243.90 C332.20 245.20 336.47 249.10 338.70 251.70 C340.93 254.30 342.25 256.35 344.30 259.50 C346.35 262.65 348.77 266.50 351.00 270.60 C353.23 274.70 355.37 279.88 357.70 284.10 C360.03 288.32 362.57 293.02 365.00 295.90 C367.43 298.78 370.63 300.13 372.30 301.40 C373.97 302.67 373.63 301.68 375.00 303.50 C376.37 305.32 378.83 309.47 380.50 312.30 C382.17 315.13 382.88 318.23 385.00 320.50 C387.12 322.77 391.08 323.78 393.20 325.90 C395.32 328.02 396.28 330.85 397.70 333.20 C399.12 335.55 400.20 337.48 401.70 340.00 C403.20 342.52 404.20 346.07 406.70 348.30 C409.20 350.53 413.63 351.17 416.70 353.40 C419.77 355.63 423.17 359.48 425.10 361.70 C427.03 363.92 427.28 364.27 428.30 366.70 C429.32 369.13 430.62 372.42 431.20 376.30 C431.78 380.18 431.68 385.05 431.80 390.00 C431.92 394.95 431.88 403.33 431.90 406.00" fill="none" stroke="#3a3a3a" stroke-width="1.0" stroke-linejoin="round" stroke-linecap="round" />
<path d="M432.10 406.00 C432.12 403.33 431.98 395.93 432.20 390.00 C432.42 384.07 432.45 375.67 433.40 370.40 C434.35 365.13 436.23 361.97 437.90 358.40 C439.57 354.83 440.82 352.42 443.40 349.00 C445.98 345.58 450.25 341.05 453.40 337.90 C456.55 334.75 459.52 332.70 462.30 330.10 C465.08 327.50 467.65 325.23 470.10 322.30 C472.55 319.37 475.85 314.13 477.00 312.50" fill="none" stroke="#3a3a3a" stroke-width="1.0" stroke-linejoin="round" stroke-linecap="round" />
<path d="M384.70 357.00V412.00" stroke="#555" stroke-width="1.1" stroke-dasharray="3.3 3" fill="none"/>
<path d="M383.10 263.00 C383.13 264.17 383.22 267.50 383.30 270.00 C383.38 272.50 383.47 275.35 383.60 278.00 C383.73 280.65 383.42 283.37 384.10 285.90 C384.78 288.43 386.67 291.48 387.70 293.20 C388.73 294.92 389.38 294.68 390.30 296.20 C391.22 297.72 391.97 299.77 393.20 302.30 C394.43 304.83 396.48 308.68 397.70 311.40 C398.92 314.12 399.73 316.18 400.50 318.60 C401.27 321.02 401.85 323.17 402.30 325.90 C402.75 328.63 402.78 329.32 403.20 335.00 C403.62 340.68 404.48 352.77 404.80 360.00 C405.12 367.23 405.05 375.33 405.10 378.40" fill="none" stroke="#ff4652" stroke-width="1.0" stroke-linejoin="round" stroke-linecap="round" />
<path d="M405.30 378.40 C405.35 373.67 405.23 356.98 405.60 350.00 C405.97 343.02 406.53 339.75 407.50 336.50 C408.47 333.25 410.00 331.78 411.40 330.50 C412.80 329.22 410.75 329.05 415.90 328.80 C421.05 328.55 434.20 329.03 442.30 329.00 C450.40 328.97 458.22 328.52 464.50 328.60 C470.78 328.68 474.63 329.35 480.00 329.50 C485.37 329.65 492.07 330.70 496.70 329.50 C501.33 328.30 504.08 324.72 507.80 322.30 C511.52 319.88 515.47 316.58 519.00 315.00 C522.53 313.42 526.92 313.63 529.00 312.80 C531.08 311.97 531.08 310.47 531.50 310.00" fill="none" stroke="#ff4652" stroke-width="1.0" stroke-linejoin="round" stroke-linecap="round" />
<path d="M531 309.5 C534 309.5 536 311.5 535.1 314.5" fill="none" stroke="#ff4652" stroke-width="1"/>
<path d="M534.70 318.00L533.34 314.07L536.72 314.36Z" fill="#ff4652"/>
<path d="M383.20 288.60 C384.10 289.50 386.78 292.18 388.60 294.00 C390.42 295.82 392.43 297.97 394.10 299.50 C395.77 301.03 397.23 301.22 398.60 303.20 C399.97 305.18 400.93 308.98 402.30 311.40 C403.67 313.82 404.98 315.58 406.80 317.70 C408.62 319.82 411.00 322.13 413.20 324.10 C415.40 326.07 417.02 327.95 420.00 329.50 C422.98 331.05 427.38 332.00 431.10 333.40 C434.82 334.80 438.95 336.05 442.30 337.90 C445.65 339.75 448.80 342.65 451.20 344.50 C453.60 346.35 455.18 347.42 456.70 349.00 C458.22 350.58 458.95 350.93 460.30 354.00 C461.65 357.07 463.80 363.18 464.80 367.40 C465.80 371.62 465.90 373.20 466.30 379.30 C466.70 385.40 467.05 399.88 467.20 404.00" fill="none" stroke="#ff4652" stroke-width="1.0" stroke-linejoin="round" stroke-linecap="round" />
<path d="M467.40 404.00 C467.47 398.40 467.00 378.00 467.80 370.40 C468.60 362.80 470.22 361.88 472.20 358.40 C474.18 354.92 476.55 351.82 479.70 349.50 C482.85 347.18 486.42 346.63 491.10 344.50 C495.78 342.37 503.15 339.48 507.80 336.70 C512.45 333.92 515.47 331.13 519.00 327.80 C522.53 324.47 527.33 318.55 529.00 316.70" fill="none" stroke="#ff4652" stroke-width="1.0" stroke-linejoin="round" stroke-linecap="round" />
<path d="M405.20 380.00V412.00" stroke="#ff4652" stroke-width="1.1" stroke-dasharray="3.3 3" fill="none"/>
<path d="M380.50 281.40 C380.58 283.17 380.85 288.98 381.00 292.00 C381.15 295.02 380.88 297.03 381.40 299.50 C381.92 301.97 383.05 303.77 384.10 306.80 C385.15 309.83 386.48 314.22 387.70 317.70 C388.92 321.18 390.48 324.82 391.40 327.70 C392.32 330.58 392.63 331.28 393.20 335.00 C393.77 338.72 394.48 345.00 394.80 350.00 C395.12 355.00 395.05 362.50 395.10 365.00" fill="none" stroke="#3f8ee6" stroke-width="1.0" stroke-linejoin="round" stroke-linecap="round" />
<path d="M395.30 365.00 C395.50 360.83 395.90 344.97 396.50 340.00 C397.10 335.03 398.12 335.87 398.90 335.20 C399.68 334.53 400.03 335.20 401.20 336.00 C402.37 336.80 404.33 338.95 405.90 340.00 C407.47 341.05 408.25 342.28 410.60 342.30 C412.95 342.32 416.58 340.83 420.00 340.10 C423.42 339.37 427.38 338.65 431.10 337.90 C434.82 337.15 436.73 335.98 442.30 335.60 C447.87 335.22 458.22 335.50 464.50 335.60 C470.78 335.70 473.70 336.02 480.00 336.20 C486.30 336.38 494.13 336.70 502.30 336.70 C510.47 336.70 524.55 336.28 529.00 336.20" fill="none" stroke="#3f8ee6" stroke-width="1.0" stroke-linejoin="round" stroke-linecap="round" />
<path d="M528 332.3 C532 333.5 533.5 338 531.5 342" fill="none" stroke="#2a2ae6" stroke-width="1.4"/>
<path d="M531.80 343.50L531.32 340.13L534.33 341.23Z" fill="#2a2ae6"/>
<path d="M382.00 300.00 C383.10 301.13 385.98 304.15 388.60 306.80 C391.22 309.45 394.97 313.32 397.70 315.90 C400.43 318.48 402.42 320.48 405.00 322.30 C407.58 324.12 410.70 325.23 413.20 326.80 C415.70 328.37 416.08 330.23 420.00 331.70 C423.92 333.17 431.87 334.57 436.70 335.60 C441.53 336.63 445.67 336.78 449.00 337.90 C452.33 339.02 454.30 340.45 456.70 342.30 C459.10 344.15 461.30 346.57 463.40 349.00 C465.50 351.43 467.45 353.08 469.30 356.90 C471.15 360.72 473.42 366.38 474.50 371.90 C475.58 377.42 475.55 383.98 475.80 390.00 C476.05 396.02 475.97 405.00 476.00 408.00" fill="none" stroke="#3f8ee6" stroke-width="1.0" stroke-linejoin="round" stroke-linecap="round" />
<path d="M476.20 408.00 C476.25 405.00 476.28 395.52 476.50 390.00 C476.72 384.48 476.92 378.67 477.50 374.90 C478.08 371.13 479.10 370.40 480.00 367.40 C480.90 364.40 481.05 359.97 482.90 356.90 C484.75 353.83 486.95 351.25 491.10 349.00 C495.25 346.75 502.60 345.17 507.80 343.40 C513.00 341.63 518.77 339.53 522.30 338.40 C525.83 337.27 527.88 336.90 529.00 336.60" fill="none" stroke="#3f8ee6" stroke-width="1.0" stroke-linejoin="round" stroke-linecap="round" />
<path d="M395.10 368.00V412.00" stroke="#4646ee" stroke-width="1.2" stroke-dasharray="3.3 3" fill="none"/>
<path d="M394.60 267.20 L394.60 316.50" fill="none" stroke="#3a3a3a" stroke-width="1.0" stroke-dasharray="1.2 1.2"/>
<path d="M477.70 267.20 L477.70 309.00" fill="none" stroke="#3a3a3a" stroke-width="1.0" stroke-dasharray="1.2 1.2"/>
<path d="M397.90 267.20 L474.70 267.20" fill="none" stroke="#222" stroke-width="1.1" />
<path d="M394.90 267.20L399.90 264.60L399.90 269.80Z" fill="#222"/>
<path d="M477.70 267.20L472.70 269.80L472.70 264.60Z" fill="#222"/>
<text x="433.70" y="265.40" text-anchor="middle" style='font-family:"Liberation Serif", serif' font-size="8.6" fill="#222" stroke="#222" stroke-width="0.12" textLength="44.7" lengthAdjust="spacingAndGlyphs" >Passive range</text>
<path d="M412.90 281.20 L412.90 329.50" fill="none" stroke="#ff4652" stroke-width="1.0" stroke-dasharray="1.2 1.2"/>
<path d="M498.40 281.20 L498.40 326.70" fill="none" stroke="#ff4652" stroke-width="1.0" stroke-dasharray="1.2 1.2"/>
<path d="M415.90 281.20 L495.00 281.20" fill="none" stroke="#ff4652" stroke-width="1.0" />
<path d="M412.90 281.20L417.90 278.60L417.90 283.80Z" fill="#ff4652"/>
<path d="M498.00 281.20L493.00 283.80L493.00 278.60Z" fill="#ff4652"/>
<text x="456.70" y="279.20" text-anchor="middle" style='font-family:"Liberation Serif", serif' font-size="8.6" fill="#ff4652" stroke="#ff4652" stroke-width="0.3" textLength="45" lengthAdjust="spacingAndGlyphs" >Passive range</text>
<text x="0.00" y="0.00" text-anchor="middle" style='font-family:"Liberation Serif", serif' font-size="8.6" fill="#ff4652" stroke="#ff4652" stroke-width="0.3" textLength="24" lengthAdjust="spacingAndGlyphs" transform="translate(525.8,288) rotate(-90)">Passive</text>
<text x="0.00" y="0.00" text-anchor="middle" style='font-family:"Liberation Serif", serif' font-size="8.6" fill="#ff4652" stroke="#ff4652" stroke-width="0.3" textLength="36.7" lengthAdjust="spacingAndGlyphs" transform="translate(534,288.4) rotate(-90)">breakdown</text>
<path d="M522.30 302.20 L501.50 324.80" fill="none" stroke="#ff4652" stroke-width="1.0" />
<path d="M499.50 327.30L500.95 322.55L504.07 325.36Z" fill="#ff4652"/>
<path d="M400.90 335.00 L400.90 412.00" fill="none" stroke="#1aa6e6" stroke-width="1.0" stroke-dasharray="1.2 1.2"/>
<path d="M524.30 339.00 L524.30 412.00" fill="none" stroke="#1aa6e6" stroke-width="1.0" stroke-dasharray="1.2 1.2"/>
<path d="M406.90 411.30 L520.50 411.30" fill="none" stroke="#1aa6e6" stroke-width="1.2" />
<path d="M403.90 411.30L408.90 408.70L408.90 413.90Z" fill="#1aa6e6"/>
<path d="M523.50 411.30L518.50 413.90L518.50 408.70Z" fill="#1aa6e6"/>
<text x="499.40" y="407.80" text-anchor="middle" style='font-family:"Liberation Serif", serif' font-size="8.6" fill="#1aa6e6" stroke="#1aa6e6" stroke-width="0.3" textLength="43.3" lengthAdjust="spacingAndGlyphs" >Passive range</text>
<text x="0.00" y="0.00" text-anchor="middle" style='font-family:"Liberation Serif", serif' font-size="8.6" fill="#1aa6e6" stroke="#1aa6e6" stroke-width="0.3" textLength="24.6" lengthAdjust="spacingAndGlyphs" transform="translate(508.9,378.2) rotate(-90)">Passive</text>
<text x="0.00" y="0.00" text-anchor="middle" style='font-family:"Liberation Serif", serif' font-size="8.6" fill="#1aa6e6" stroke="#1aa6e6" stroke-width="0.3" textLength="38.8" lengthAdjust="spacingAndGlyphs" transform="translate(517.6,378.6) rotate(-90)">breakdown</text>
<path d="M509.20 367.40 L520.00 341.50" fill="none" stroke="#1aa6e6" stroke-width="1.0" />
<path d="M521.20 339.00L521.37 343.92L517.66 342.42Z" fill="#1aa6e6"/>
<path d="M471.10 237.10 L491.60 237.10" fill="none" stroke="#4a4a4a" stroke-width="1.25" />
<text x="494.10" y="239.70" font-size="10.4" fill="#2a2a2a" textLength="38.5" lengthAdjust="spacingAndGlyphs">Uncoated</text>
<path d="M471.10 248.60 L491.60 248.60" fill="none" stroke="#ff4652" stroke-width="1.25" />
<text x="494.10" y="251.20" font-size="10.4" fill="#2a2a2a" textLength="26.2" lengthAdjust="spacingAndGlyphs">H<tspan font-size="6.5" dy="2">2</tspan><tspan dy="-2">SO</tspan><tspan font-size="6.5" dy="2">4</tspan></text>
<path d="M471.10 262.40 L491.60 262.40" fill="none" stroke="#3f8ee6" stroke-width="1.25" />
<text x="494.10" y="265.00" font-size="10.4" fill="#2a2a2a" textLength="26.2" lengthAdjust="spacingAndGlyphs">H<tspan font-size="6.5" dy="2">3</tspan><tspan dy="-2">PO</tspan><tspan font-size="6.5" dy="2">4</tspan></text>
</svg></body></html>
